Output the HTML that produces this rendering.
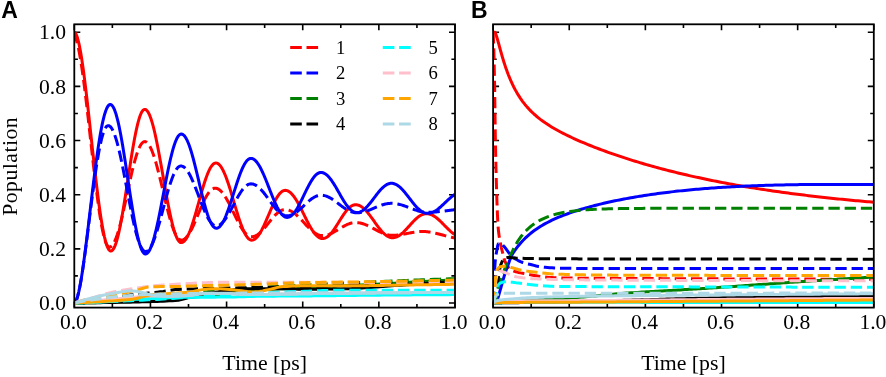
<!DOCTYPE html>
<html><head><meta charset="utf-8"><style>
html,body{margin:0;padding:0;background:#fff;}
body{width:886px;height:377px;overflow:hidden;}
svg{display:block;will-change:transform;}
.tk{font-family:"Liberation Serif",serif;font-size:21.6px;fill:#000;}
.lb{font-family:"Liberation Serif",serif;font-size:21.8px;fill:#000;}
.lg{font-family:"Liberation Serif",serif;font-size:18.6px;fill:#000;}
.pl{font-family:"Liberation Sans",sans-serif;font-size:23px;font-weight:bold;fill:#000;}
</style></head><body>
<svg width="886" height="377" viewBox="0 0 886 377">
<defs><clipPath id="clipA"><rect x="74.30" y="24.30" width="380.70" height="283.30"/></clipPath><clipPath id="clipB"><rect x="493.10" y="24.30" width="380.70" height="283.30"/></clipPath></defs>
<path d="M74.30,307.60v-6.00M74.30,24.30v6.00M112.37,307.60v-3.60M112.37,24.30v3.60M150.44,307.60v-6.00M150.44,24.30v6.00M188.51,307.60v-3.60M188.51,24.30v3.60M226.58,307.60v-6.00M226.58,24.30v6.00M264.65,307.60v-3.60M264.65,24.30v3.60M302.72,307.60v-6.00M302.72,24.30v6.00M340.79,307.60v-3.60M340.79,24.30v3.60M378.86,307.60v-6.00M378.86,24.30v6.00M416.93,307.60v-3.60M416.93,24.30v3.60M455.00,307.60v-6.00M455.00,24.30v6.00M74.30,303.00h6.00M455.00,303.00h-6.00M74.30,275.92h3.60M455.00,275.92h-3.60M74.30,248.84h6.00M455.00,248.84h-6.00M74.30,221.76h3.60M455.00,221.76h-3.60M74.30,194.68h6.00M455.00,194.68h-6.00M74.30,167.60h3.60M455.00,167.60h-3.60M74.30,140.52h6.00M455.00,140.52h-6.00M74.30,113.44h3.60M455.00,113.44h-3.60M74.30,86.36h6.00M455.00,86.36h-6.00M74.30,59.28h3.60M455.00,59.28h-3.60M74.30,32.20h6.00M455.00,32.20h-6.00" stroke="#000" stroke-width="1.6" fill="none"/>
<path d="M493.10,307.60v-6.00M493.10,24.30v6.00M531.17,307.60v-3.60M531.17,24.30v3.60M569.24,307.60v-6.00M569.24,24.30v6.00M607.31,307.60v-3.60M607.31,24.30v3.60M645.38,307.60v-6.00M645.38,24.30v6.00M683.45,307.60v-3.60M683.45,24.30v3.60M721.52,307.60v-6.00M721.52,24.30v6.00M759.59,307.60v-3.60M759.59,24.30v3.60M797.66,307.60v-6.00M797.66,24.30v6.00M835.73,307.60v-3.60M835.73,24.30v3.60M873.80,307.60v-6.00M873.80,24.30v6.00M493.10,303.00h6.00M873.80,303.00h-6.00M493.10,275.92h3.60M873.80,275.92h-3.60M493.10,248.84h6.00M873.80,248.84h-6.00M493.10,221.76h3.60M873.80,221.76h-3.60M493.10,194.68h6.00M873.80,194.68h-6.00M493.10,167.60h3.60M873.80,167.60h-3.60M493.10,140.52h6.00M873.80,140.52h-6.00M493.10,113.44h3.60M873.80,113.44h-3.60M493.10,86.36h6.00M873.80,86.36h-6.00M493.10,59.28h3.60M873.80,59.28h-3.60M493.10,32.20h6.00M873.80,32.20h-6.00" stroke="#000" stroke-width="1.6" fill="none"/>
<g fill="none" stroke-width="3.0" stroke-linejoin="round" stroke-linecap="butt">
<path clip-path="url(#clipA)" d="M74.30,32.20 L75.21,32.77 L76.13,34.25 L77.04,36.54 L77.95,39.57 L78.87,43.29 L79.78,47.66 L80.70,52.63 L81.61,58.16 L82.52,64.19 L83.44,70.68 L84.35,77.58 L85.26,84.84 L86.18,92.43 L87.09,100.27 L88.01,108.34 L88.92,116.56 L89.83,124.91 L90.75,133.32 L91.66,141.74 L92.57,150.14 L93.49,158.45 L94.40,166.64 L95.31,174.66 L96.23,182.47 L97.14,190.01 L98.06,197.26 L98.97,204.18 L99.88,210.73 L100.80,216.87 L101.71,222.58 L102.62,227.83 L103.54,232.59 L104.45,236.84 L105.37,240.55 L106.28,243.73 L107.19,246.34 L108.11,248.38 L109.02,249.84 L109.93,250.71 L110.85,251.01 L111.69,250.79 L112.54,250.13 L113.39,249.05 L114.24,247.54 L115.08,245.62 L115.93,243.29 L116.78,240.57 L117.62,237.48 L118.47,234.04 L119.32,230.27 L120.16,226.18 L121.01,221.82 L121.86,217.19 L122.71,212.34 L123.55,207.29 L124.40,202.07 L125.25,196.72 L126.09,191.27 L126.94,185.75 L127.79,180.19 L128.64,174.64 L129.48,169.11 L130.33,163.66 L131.18,158.31 L132.02,153.09 L132.87,148.04 L133.72,143.19 L134.56,138.57 L135.41,134.20 L136.26,130.12 L137.11,126.34 L137.95,122.90 L138.80,119.81 L139.65,117.10 L140.49,114.77 L141.34,112.84 L142.19,111.33 L143.04,110.25 L143.88,109.60 L144.73,109.38 L145.64,109.58 L146.56,110.20 L147.47,111.22 L148.38,112.64 L149.30,114.45 L150.21,116.64 L151.13,119.19 L152.04,122.10 L152.95,125.34 L153.87,128.89 L154.78,132.73 L155.69,136.84 L156.61,141.19 L157.52,145.75 L158.43,150.50 L159.35,155.41 L160.26,160.44 L161.18,165.57 L162.09,170.77 L163.00,175.99 L163.92,181.22 L164.83,186.42 L165.74,191.55 L166.66,196.58 L167.57,201.49 L168.49,206.24 L169.40,210.80 L170.31,215.15 L171.23,219.26 L172.14,223.10 L173.05,226.65 L173.97,229.89 L174.88,232.79 L175.79,235.35 L176.71,237.54 L177.62,239.35 L178.54,240.77 L179.45,241.79 L180.36,242.41 L181.28,242.61 L182.14,242.49 L183.01,242.12 L183.87,241.51 L184.74,240.66 L185.61,239.58 L186.47,238.27 L187.34,236.75 L188.21,235.01 L189.07,233.07 L189.94,230.95 L190.80,228.66 L191.67,226.20 L192.54,223.60 L193.40,220.88 L194.27,218.04 L195.13,215.11 L196.00,212.10 L196.87,209.03 L197.73,205.93 L198.60,202.80 L199.46,199.68 L200.33,196.58 L201.20,193.51 L202.06,190.50 L202.93,187.57 L203.80,184.73 L204.66,182.00 L205.53,179.41 L206.39,176.95 L207.26,174.66 L208.13,172.53 L208.99,170.60 L209.86,168.86 L210.72,167.34 L211.59,166.03 L212.46,164.94 L213.32,164.10 L214.19,163.49 L215.05,163.12 L215.92,163.00 L216.82,163.12 L217.71,163.47 L218.60,164.06 L219.50,164.89 L220.39,165.93 L221.29,167.20 L222.18,168.68 L223.08,170.37 L223.97,172.24 L224.87,174.30 L225.76,176.52 L226.66,178.90 L227.55,181.42 L228.45,184.07 L229.34,186.82 L230.23,189.66 L231.13,192.58 L232.02,195.55 L232.92,198.56 L233.81,201.59 L234.71,204.61 L235.60,207.62 L236.50,210.59 L237.39,213.51 L238.29,216.35 L239.18,219.10 L240.08,221.75 L240.97,224.27 L241.87,226.65 L242.76,228.87 L243.65,230.93 L244.55,232.80 L245.44,234.49 L246.34,235.97 L247.23,237.24 L248.13,238.29 L249.02,239.11 L249.92,239.70 L250.81,240.06 L251.71,240.17 L252.54,240.10 L253.38,239.87 L254.22,239.49 L255.06,238.96 L255.89,238.28 L256.73,237.46 L257.57,236.50 L258.41,235.42 L259.24,234.21 L260.08,232.88 L260.92,231.44 L261.76,229.90 L262.59,228.28 L263.43,226.57 L264.27,224.79 L265.11,222.96 L265.94,221.08 L266.78,219.16 L267.62,217.22 L268.46,215.26 L269.29,213.31 L270.13,211.36 L270.97,209.44 L271.81,207.56 L272.64,205.73 L273.48,203.95 L274.32,202.24 L275.16,200.62 L275.99,199.08 L276.83,197.64 L277.67,196.32 L278.51,195.11 L279.35,194.02 L280.18,193.06 L281.02,192.24 L281.86,191.57 L282.70,191.04 L283.53,190.65 L284.37,190.42 L285.21,190.35 L286.14,190.42 L287.07,190.64 L288.01,191.01 L288.94,191.53 L289.87,192.18 L290.80,192.97 L291.74,193.90 L292.67,194.95 L293.60,196.12 L294.53,197.41 L295.47,198.80 L296.40,200.28 L297.33,201.86 L298.27,203.51 L299.20,205.23 L300.13,207.00 L301.06,208.82 L302.00,210.68 L302.93,212.56 L303.86,214.45 L304.79,216.34 L305.73,218.22 L306.66,220.07 L307.59,221.90 L308.53,223.67 L309.46,225.39 L310.39,227.04 L311.32,228.61 L312.26,230.10 L313.19,231.49 L314.12,232.78 L315.05,233.95 L315.99,235.00 L316.92,235.92 L317.85,236.72 L318.79,237.37 L319.72,237.88 L320.65,238.25 L321.58,238.48 L322.52,238.55 L323.34,238.50 L324.17,238.34 L325.00,238.08 L325.83,237.72 L326.66,237.26 L327.48,236.70 L328.31,236.06 L329.14,235.32 L329.97,234.49 L330.80,233.59 L331.62,232.62 L332.45,231.57 L333.28,230.47 L334.11,229.31 L334.94,228.10 L335.76,226.85 L336.59,225.58 L337.42,224.27 L338.25,222.95 L339.08,221.62 L339.90,220.30 L340.73,218.98 L341.56,217.67 L342.39,216.39 L343.22,215.15 L344.04,213.94 L344.87,212.78 L345.70,211.68 L346.53,210.63 L347.36,209.66 L348.19,208.75 L349.01,207.93 L349.84,207.19 L350.67,206.54 L351.50,205.99 L352.33,205.53 L353.15,205.17 L353.98,204.91 L354.81,204.75 L355.64,204.70 L356.56,204.75 L357.48,204.90 L358.41,205.16 L359.33,205.51 L360.25,205.96 L361.18,206.50 L362.10,207.13 L363.02,207.85 L363.95,208.66 L364.87,209.54 L365.79,210.49 L366.72,211.51 L367.64,212.59 L368.56,213.72 L369.49,214.90 L370.41,216.11 L371.33,217.36 L372.25,218.63 L373.18,219.92 L374.10,221.22 L375.02,222.51 L375.95,223.80 L376.87,225.07 L377.79,226.32 L378.72,227.54 L379.64,228.72 L380.56,229.85 L381.49,230.93 L382.41,231.95 L383.33,232.90 L384.26,233.78 L385.18,234.58 L386.10,235.30 L387.03,235.94 L387.95,236.48 L388.87,236.93 L389.80,237.28 L390.72,237.53 L391.64,237.69 L392.57,237.74 L393.41,237.70 L394.26,237.59 L395.11,237.40 L395.95,237.15 L396.80,236.82 L397.65,236.42 L398.49,235.96 L399.34,235.44 L400.19,234.85 L401.04,234.21 L401.88,233.51 L402.73,232.77 L403.58,231.98 L404.42,231.16 L405.27,230.30 L406.12,229.41 L406.97,228.50 L407.81,227.57 L408.66,226.63 L409.51,225.69 L410.35,224.74 L411.20,223.80 L412.05,222.87 L412.89,221.96 L413.74,221.08 L414.59,220.22 L415.44,219.39 L416.28,218.60 L417.13,217.86 L417.98,217.17 L418.82,216.52 L419.67,215.94 L420.52,215.41 L421.37,214.95 L422.21,214.55 L423.06,214.23 L423.91,213.97 L424.75,213.78 L425.60,213.67 L426.45,213.64 L427.35,213.67 L428.26,213.78 L429.16,213.96 L430.06,214.21 L430.97,214.53 L431.87,214.92 L432.78,215.37 L433.68,215.89 L434.58,216.46 L435.49,217.09 L436.39,217.77 L437.30,218.49 L438.20,219.26 L439.11,220.07 L440.01,220.91 L440.91,221.78 L441.82,222.67 L442.72,223.57 L443.63,224.49 L444.53,225.42 L445.43,226.34 L446.34,227.26 L447.24,228.17 L448.15,229.06 L449.05,229.92 L449.96,230.76 L450.86,231.57 L451.76,232.34 L452.67,233.07 L453.57,233.75 L454.48,234.37 L455.00,234.70" stroke="#ff0000"/>
<path clip-path="url(#clipA)" d="M74.30,32.20 L74.64,35.17 L75.58,37.46 L76.51,40.38 L77.45,43.92 L78.39,48.04 L79.33,52.73 L80.26,57.96 L81.20,63.69 L82.14,69.89 L83.08,76.52 L84.01,83.54 L84.95,90.90 L85.89,98.57 L86.83,106.49 L87.76,114.61 L88.70,122.89 L89.64,131.27 L90.57,139.71 L91.51,148.14 L92.45,156.53 L93.39,164.80 L94.32,172.93 L95.26,180.85 L96.20,188.52 L97.14,195.88 L98.07,202.90 L99.01,209.53 L99.95,215.73 L100.89,221.46 L101.82,226.68 L102.76,231.37 L103.70,235.50 L104.64,239.03 L105.57,241.95 L106.51,244.24 L107.45,245.89 L108.39,246.88 L109.32,247.22 L110.21,247.05 L111.09,246.57 L111.98,245.76 L112.86,244.63 L113.75,243.20 L114.64,241.46 L115.52,239.43 L116.41,237.13 L117.29,234.56 L118.18,231.75 L119.06,228.70 L119.95,225.45 L120.83,222.00 L121.72,218.38 L122.60,214.62 L123.49,210.73 L124.37,206.74 L125.26,202.67 L126.14,198.55 L127.03,194.41 L127.91,190.27 L128.80,186.15 L129.68,182.08 L130.57,178.09 L131.45,174.20 L132.34,170.44 L133.22,166.82 L134.11,163.37 L134.99,160.11 L135.88,157.07 L136.76,154.26 L137.65,151.69 L138.53,149.38 L139.42,147.36 L140.30,145.62 L141.19,144.19 L142.07,143.06 L142.96,142.25 L143.84,141.77 L144.73,141.60 L145.64,141.76 L146.56,142.21 L147.47,142.96 L148.38,144.02 L149.30,145.35 L150.21,146.98 L151.13,148.87 L152.04,151.02 L152.95,153.41 L153.87,156.04 L154.78,158.88 L155.69,161.92 L156.61,165.14 L157.52,168.51 L158.43,172.03 L159.35,175.66 L160.26,179.38 L161.18,183.18 L162.09,187.02 L163.00,190.89 L163.92,194.76 L164.83,198.60 L165.74,202.39 L166.66,206.12 L167.57,209.75 L168.49,213.26 L169.40,216.64 L170.31,219.86 L171.23,222.90 L172.14,225.74 L173.05,228.37 L173.97,230.76 L174.88,232.91 L175.79,234.80 L176.71,236.42 L177.62,237.76 L178.54,238.81 L179.45,239.57 L180.36,240.02 L181.28,240.17 L182.12,240.09 L182.97,239.85 L183.82,239.46 L184.66,238.90 L185.51,238.20 L186.36,237.34 L187.21,236.34 L188.05,235.21 L188.90,233.95 L189.75,232.56 L190.59,231.06 L191.44,229.46 L192.29,227.76 L193.14,225.98 L193.98,224.13 L194.83,222.21 L195.68,220.25 L196.52,218.24 L197.37,216.22 L198.22,214.18 L199.06,212.14 L199.91,210.11 L200.76,208.11 L201.61,206.14 L202.45,204.23 L203.30,202.38 L204.15,200.59 L204.99,198.90 L205.84,197.29 L206.69,195.80 L207.54,194.41 L208.38,193.15 L209.23,192.01 L210.08,191.01 L210.92,190.16 L211.77,189.45 L212.62,188.90 L213.46,188.50 L214.31,188.26 L215.16,188.18 L216.07,188.26 L216.99,188.48 L217.90,188.85 L218.81,189.37 L219.73,190.03 L220.64,190.82 L221.55,191.75 L222.47,192.81 L223.38,193.99 L224.30,195.28 L225.21,196.68 L226.12,198.17 L227.04,199.75 L227.95,201.41 L228.86,203.14 L229.78,204.93 L230.69,206.76 L231.61,208.63 L232.52,210.52 L233.43,212.42 L234.35,214.32 L235.26,216.21 L236.17,218.08 L237.09,219.91 L238.00,221.69 L238.91,223.42 L239.83,225.08 L240.74,226.66 L241.66,228.16 L242.57,229.56 L243.48,230.85 L244.40,232.03 L245.31,233.08 L246.22,234.01 L247.14,234.81 L248.05,235.47 L248.97,235.98 L249.88,236.36 L250.79,236.58 L251.71,236.65 L252.54,236.61 L253.38,236.49 L254.22,236.28 L255.06,235.99 L255.89,235.62 L256.73,235.18 L257.57,234.66 L258.41,234.07 L259.24,233.41 L260.08,232.69 L260.92,231.91 L261.76,231.07 L262.59,230.19 L263.43,229.26 L264.27,228.30 L265.11,227.30 L265.94,226.27 L266.78,225.23 L267.62,224.18 L268.46,223.11 L269.29,222.05 L270.13,221.00 L270.97,219.95 L271.81,218.93 L272.64,217.93 L273.48,216.97 L274.32,216.04 L275.16,215.16 L275.99,214.32 L276.83,213.54 L277.67,212.82 L278.51,212.16 L279.35,211.57 L280.18,211.05 L281.02,210.60 L281.86,210.24 L282.70,209.95 L283.53,209.74 L284.37,209.62 L285.21,209.57 L286.14,209.61 L287.07,209.73 L288.01,209.93 L288.94,210.21 L289.87,210.56 L290.80,210.99 L291.74,211.49 L292.67,212.06 L293.60,212.69 L294.53,213.38 L295.47,214.13 L296.40,214.93 L297.33,215.78 L298.27,216.67 L299.20,217.60 L300.13,218.56 L301.06,219.54 L302.00,220.54 L302.93,221.55 L303.86,222.57 L304.79,223.59 L305.73,224.61 L306.66,225.61 L307.59,226.59 L308.53,227.55 L309.46,228.47 L310.39,229.36 L311.32,230.21 L312.26,231.01 L313.19,231.76 L314.12,232.46 L315.05,233.09 L315.99,233.66 L316.92,234.15 L317.85,234.58 L318.79,234.93 L319.72,235.21 L320.65,235.41 L321.58,235.53 L322.52,235.57 L323.34,235.55 L324.17,235.49 L325.00,235.39 L325.83,235.25 L326.66,235.08 L327.48,234.86 L328.31,234.61 L329.14,234.33 L329.97,234.01 L330.80,233.67 L331.62,233.29 L332.45,232.89 L333.28,232.47 L334.11,232.02 L334.94,231.56 L335.76,231.08 L336.59,230.59 L337.42,230.09 L338.25,229.58 L339.08,229.07 L339.90,228.56 L340.73,228.05 L341.56,227.55 L342.39,227.06 L343.22,226.58 L344.04,226.12 L344.87,225.68 L345.70,225.25 L346.53,224.85 L347.36,224.48 L348.19,224.13 L349.01,223.81 L349.84,223.53 L350.67,223.28 L351.50,223.07 L352.33,222.89 L353.15,222.75 L353.98,222.65 L354.81,222.59 L355.64,222.57 L356.56,222.59 L357.48,222.65 L358.41,222.75 L359.33,222.88 L360.25,223.06 L361.18,223.27 L362.10,223.51 L363.02,223.79 L363.95,224.10 L364.87,224.44 L365.79,224.80 L366.72,225.20 L367.64,225.61 L368.56,226.05 L369.49,226.50 L370.41,226.97 L371.33,227.45 L372.25,227.94 L373.18,228.44 L374.10,228.94 L375.02,229.44 L375.95,229.93 L376.87,230.42 L377.79,230.90 L378.72,231.37 L379.64,231.83 L380.56,232.26 L381.49,232.68 L382.41,233.07 L383.33,233.44 L384.26,233.78 L385.18,234.08 L386.10,234.36 L387.03,234.61 L387.95,234.82 L388.87,234.99 L389.80,235.12 L390.72,235.22 L391.64,235.28 L392.57,235.30 L393.32,235.29 L394.07,235.28 L394.82,235.25 L395.57,235.21 L396.32,235.16 L397.08,235.09 L397.83,235.02 L398.58,234.94 L399.33,234.85 L400.08,234.74 L400.84,234.64 L401.59,234.52 L402.34,234.39 L403.09,234.26 L403.84,234.13 L404.60,233.99 L405.35,233.85 L406.10,233.70 L406.85,233.55 L407.60,233.40 L408.35,233.26 L409.11,233.11 L409.86,232.96 L410.61,232.82 L411.36,232.68 L412.11,232.54 L412.87,232.41 L413.62,232.29 L414.37,232.17 L415.12,232.06 L415.87,231.96 L416.63,231.87 L417.38,231.79 L418.13,231.72 L418.88,231.65 L419.63,231.60 L420.38,231.56 L421.14,231.53 L421.89,231.51 L422.64,231.51 L423.64,231.52 L424.64,231.55 L425.64,231.61 L426.64,231.68 L427.64,231.78 L428.64,231.89 L429.64,232.03 L430.64,232.18 L431.63,232.35 L432.63,232.54 L433.63,232.74 L434.63,232.96 L435.63,233.19 L436.63,233.43 L437.63,233.68 L438.63,233.94 L439.63,234.21 L440.63,234.48 L441.63,234.75 L442.63,235.03 L443.63,235.31 L444.63,235.58 L445.63,235.85 L446.62,236.12 L447.62,236.38 L448.62,236.63 L449.62,236.87 L450.62,237.10 L451.62,237.32 L452.62,237.52 L453.62,237.71 L454.62,237.88 L455.00,237.94" stroke="#ff0000" stroke-dasharray="11.3 4.9"/>
<path clip-path="url(#clipA)" d="M74.30,303.00 L75.20,302.36 L76.10,300.78 L77.00,298.41 L77.90,295.34 L78.80,291.62 L79.70,287.33 L80.60,282.49 L81.50,277.17 L82.39,271.42 L83.29,265.28 L84.19,258.79 L85.09,252.01 L85.99,244.97 L86.89,237.74 L87.79,230.35 L88.69,222.84 L89.59,215.27 L90.49,207.68 L91.39,200.10 L92.29,192.59 L93.19,185.17 L94.09,177.90 L94.99,170.80 L95.89,163.92 L96.79,157.29 L97.68,150.94 L98.58,144.90 L99.48,139.20 L100.38,133.86 L101.28,128.92 L102.18,124.38 L103.08,120.28 L103.98,116.63 L104.88,113.43 L105.78,110.72 L106.68,108.49 L107.58,106.74 L108.48,105.50 L109.38,104.75 L110.28,104.50 L111.16,104.73 L112.04,105.42 L112.92,106.57 L113.80,108.16 L114.68,110.19 L115.56,112.65 L116.44,115.52 L117.32,118.78 L118.20,122.41 L119.08,126.39 L119.96,130.70 L120.84,135.31 L121.72,140.19 L122.60,145.31 L123.48,150.64 L124.36,156.15 L125.24,161.80 L126.12,167.55 L127.00,173.38 L127.88,179.24 L128.76,185.11 L129.64,190.94 L130.52,196.69 L131.41,202.34 L132.29,207.85 L133.17,213.18 L134.05,218.30 L134.93,223.18 L135.81,227.78 L136.69,232.09 L137.57,236.08 L138.45,239.71 L139.33,242.97 L140.21,245.84 L141.09,248.30 L141.97,250.33 L142.85,251.92 L143.73,253.07 L144.61,253.75 L145.49,253.99 L146.39,253.80 L147.28,253.25 L148.17,252.33 L149.07,251.05 L149.96,249.42 L150.86,247.45 L151.75,245.15 L152.65,242.53 L153.54,239.61 L154.44,236.42 L155.33,232.96 L156.23,229.26 L157.12,225.34 L158.02,221.23 L158.91,216.96 L159.81,212.54 L160.70,208.01 L161.59,203.39 L162.49,198.71 L163.38,194.00 L164.28,189.30 L165.17,184.62 L166.07,180.00 L166.96,175.47 L167.86,171.05 L168.75,166.77 L169.65,162.66 L170.54,158.75 L171.44,155.05 L172.33,151.59 L173.22,148.39 L174.12,145.48 L175.01,142.86 L175.91,140.56 L176.80,138.59 L177.70,136.96 L178.59,135.68 L179.49,134.76 L180.38,134.21 L181.28,134.02 L182.15,134.17 L183.03,134.60 L183.90,135.32 L184.78,136.33 L185.65,137.61 L186.53,139.16 L187.41,140.96 L188.28,143.02 L189.16,145.31 L190.03,147.82 L190.91,150.54 L191.78,153.44 L192.66,156.52 L193.54,159.75 L194.41,163.11 L195.29,166.58 L196.16,170.14 L197.04,173.77 L197.91,177.44 L198.79,181.14 L199.66,184.84 L200.54,188.51 L201.42,192.14 L202.29,195.70 L203.17,199.17 L204.04,202.53 L204.92,205.76 L205.79,208.84 L206.67,211.74 L207.54,214.46 L208.42,216.97 L209.30,219.26 L210.17,221.32 L211.05,223.12 L211.92,224.67 L212.80,225.95 L213.67,226.96 L214.55,227.68 L215.43,228.11 L216.30,228.26 L217.17,228.15 L218.03,227.83 L218.90,227.29 L219.77,226.55 L220.63,225.60 L221.50,224.45 L222.36,223.11 L223.23,221.59 L224.10,219.89 L224.96,218.03 L225.83,216.01 L226.69,213.86 L227.56,211.58 L228.43,209.19 L229.29,206.69 L230.16,204.12 L231.02,201.48 L231.89,198.79 L232.76,196.07 L233.62,193.33 L234.49,190.59 L235.36,187.86 L236.22,185.17 L237.09,182.53 L237.95,179.96 L238.82,177.47 L239.69,175.07 L240.55,172.79 L241.42,170.64 L242.28,168.62 L243.15,166.76 L244.02,165.06 L244.88,163.54 L245.75,162.20 L246.61,161.05 L247.48,160.10 L248.35,159.36 L249.21,158.82 L250.08,158.50 L250.94,158.39 L251.85,158.48 L252.75,158.76 L253.66,159.21 L254.56,159.84 L255.47,160.64 L256.37,161.61 L257.27,162.74 L258.18,164.03 L259.08,165.46 L259.99,167.04 L260.89,168.74 L261.79,170.56 L262.70,172.49 L263.60,174.51 L264.51,176.61 L265.41,178.79 L266.32,181.02 L267.22,183.29 L268.12,185.59 L269.03,187.91 L269.93,190.23 L270.84,192.53 L271.74,194.80 L272.64,197.03 L273.55,199.21 L274.45,201.31 L275.36,203.33 L276.26,205.26 L277.17,207.08 L278.07,208.78 L278.97,210.36 L279.88,211.79 L280.78,213.08 L281.69,214.21 L282.59,215.18 L283.49,215.98 L284.40,216.61 L285.30,217.06 L286.21,217.34 L287.11,217.43 L287.96,217.36 L288.81,217.15 L289.65,216.81 L290.50,216.33 L291.35,215.72 L292.19,214.98 L293.04,214.12 L293.89,213.13 L294.73,212.04 L295.58,210.84 L296.43,209.55 L297.28,208.16 L298.12,206.69 L298.97,205.15 L299.82,203.55 L300.66,201.90 L301.51,200.20 L302.36,198.47 L303.21,196.71 L304.05,194.95 L304.90,193.19 L305.75,191.43 L306.59,189.70 L307.44,188.01 L308.29,186.35 L309.13,184.75 L309.98,183.21 L310.83,181.74 L311.68,180.35 L312.52,179.06 L313.37,177.86 L314.22,176.77 L315.06,175.79 L315.91,174.92 L316.76,174.19 L317.61,173.57 L318.45,173.10 L319.30,172.75 L320.15,172.54 L320.99,172.47 L321.89,172.54 L322.78,172.72 L323.68,173.03 L324.57,173.46 L325.47,174.00 L326.36,174.66 L327.26,175.43 L328.15,176.30 L329.05,177.28 L329.94,178.34 L330.83,179.50 L331.73,180.73 L332.62,182.04 L333.52,183.42 L334.41,184.84 L335.31,186.32 L336.20,187.84 L337.10,189.38 L337.99,190.94 L338.89,192.51 L339.78,194.09 L340.68,195.65 L341.57,197.19 L342.47,198.71 L343.36,200.18 L344.25,201.61 L345.15,202.98 L346.04,204.29 L346.94,205.53 L347.83,206.68 L348.73,207.75 L349.62,208.73 L350.52,209.60 L351.41,210.37 L352.31,211.03 L353.20,211.57 L354.10,212.00 L354.99,212.31 L355.88,212.49 L356.78,212.55 L357.65,212.51 L358.51,212.37 L359.38,212.15 L360.24,211.84 L361.11,211.44 L361.98,210.96 L362.84,210.40 L363.71,209.76 L364.57,209.05 L365.44,208.27 L366.31,207.43 L367.17,206.52 L368.04,205.57 L368.90,204.57 L369.77,203.53 L370.64,202.45 L371.50,201.34 L372.37,200.22 L373.24,199.08 L374.10,197.93 L374.97,196.78 L375.83,195.64 L376.70,194.52 L377.57,193.41 L378.43,192.33 L379.30,191.29 L380.16,190.29 L381.03,189.33 L381.90,188.43 L382.76,187.59 L383.63,186.81 L384.49,186.10 L385.36,185.46 L386.23,184.90 L387.09,184.42 L387.96,184.02 L388.82,183.71 L389.69,183.49 L390.56,183.35 L391.42,183.31 L392.33,183.35 L393.23,183.49 L394.14,183.72 L395.04,184.04 L395.94,184.45 L396.85,184.94 L397.75,185.52 L398.66,186.18 L399.56,186.91 L400.46,187.71 L401.37,188.57 L402.27,189.50 L403.18,190.48 L404.08,191.51 L404.99,192.58 L405.89,193.69 L406.79,194.83 L407.70,195.98 L408.60,197.16 L409.51,198.34 L410.41,199.51 L411.31,200.69 L412.22,201.84 L413.12,202.98 L414.03,204.09 L414.93,205.16 L415.84,206.19 L416.74,207.17 L417.64,208.10 L418.55,208.96 L419.45,209.76 L420.36,210.49 L421.26,211.15 L422.16,211.73 L423.07,212.22 L423.97,212.63 L424.88,212.95 L425.78,213.18 L426.69,213.32 L427.59,213.37 L428.47,213.33 L429.34,213.23 L430.22,213.07 L431.09,212.84 L431.97,212.55 L432.84,212.20 L433.72,211.79 L434.59,211.32 L435.47,210.80 L436.35,210.23 L437.22,209.62 L438.10,208.96 L438.97,208.26 L439.85,207.52 L440.72,206.76 L441.60,205.97 L442.47,205.17 L443.35,204.34 L444.23,203.51 L445.10,202.67 L445.98,201.83 L446.85,201.00 L447.73,200.17 L448.60,199.36 L449.48,198.58 L450.36,197.81 L451.23,197.08 L452.11,196.38 L452.98,195.72 L453.86,195.10 L454.73,194.53 L455.00,194.38" stroke="#0000ff"/>
<path clip-path="url(#clipA)" d="M74.30,303.00 L75.15,302.43 L75.99,301.02 L76.84,298.90 L77.69,296.15 L78.54,292.84 L79.38,288.99 L80.23,284.68 L81.08,279.92 L81.92,274.78 L82.77,269.29 L83.62,263.49 L84.46,257.43 L85.31,251.15 L86.16,244.68 L87.01,238.08 L87.85,231.37 L88.70,224.61 L89.55,217.82 L90.39,211.05 L91.24,204.34 L92.09,197.71 L92.94,191.21 L93.78,184.87 L94.63,178.72 L95.48,172.79 L96.32,167.12 L97.17,161.72 L98.02,156.63 L98.86,151.86 L99.71,147.44 L100.56,143.39 L101.41,139.72 L102.25,136.46 L103.10,133.61 L103.95,131.18 L104.79,129.18 L105.64,127.63 L106.49,126.52 L107.34,125.85 L108.18,125.63 L109.12,125.82 L110.05,126.40 L110.98,127.37 L111.91,128.71 L112.85,130.42 L113.78,132.49 L114.71,134.90 L115.64,137.65 L116.58,140.71 L117.51,144.07 L118.44,147.70 L119.37,151.58 L120.31,155.69 L121.24,160.00 L122.17,164.49 L123.11,169.13 L124.04,173.89 L124.97,178.74 L125.90,183.65 L126.84,188.59 L127.77,193.53 L128.70,198.44 L129.63,203.28 L130.57,208.04 L131.50,212.68 L132.43,217.17 L133.37,221.48 L134.30,225.59 L135.23,229.48 L136.16,233.11 L137.10,236.46 L138.03,239.52 L138.96,242.27 L139.89,244.69 L140.83,246.76 L141.76,248.47 L142.69,249.81 L143.63,250.77 L144.56,251.35 L145.49,251.55 L146.38,251.42 L147.26,251.02 L148.15,250.37 L149.03,249.45 L149.92,248.29 L150.80,246.88 L151.69,245.24 L152.57,243.38 L153.46,241.30 L154.34,239.02 L155.23,236.55 L156.11,233.91 L157.00,231.12 L157.88,228.19 L158.77,225.14 L159.65,221.98 L160.54,218.75 L161.42,215.45 L162.31,212.12 L163.19,208.76 L164.08,205.40 L164.96,202.07 L165.85,198.77 L166.73,195.54 L167.62,192.39 L168.50,189.34 L169.39,186.41 L170.27,183.61 L171.16,180.97 L172.04,178.51 L172.93,176.23 L173.81,174.15 L174.70,172.28 L175.59,170.64 L176.47,169.23 L177.36,168.07 L178.24,167.16 L179.13,166.50 L180.01,166.11 L180.90,165.98 L181.78,166.07 L182.67,166.34 L183.55,166.80 L184.44,167.44 L185.32,168.25 L186.21,169.24 L187.09,170.38 L187.98,171.69 L188.86,173.14 L189.75,174.74 L190.63,176.46 L191.52,178.31 L192.40,180.26 L193.29,182.31 L194.17,184.45 L195.06,186.65 L195.94,188.91 L196.83,191.22 L197.71,193.55 L198.60,195.90 L199.48,198.25 L200.37,200.58 L201.25,202.88 L202.14,205.15 L203.02,207.35 L203.91,209.48 L204.79,211.53 L205.68,213.49 L206.56,215.33 L207.45,217.06 L208.33,218.65 L209.22,220.11 L210.11,221.41 L210.99,222.56 L211.88,223.54 L212.76,224.36 L213.65,225.00 L214.53,225.45 L215.42,225.73 L216.30,225.82 L217.17,225.76 L218.03,225.56 L218.90,225.24 L219.77,224.79 L220.63,224.22 L221.50,223.53 L222.36,222.73 L223.23,221.81 L224.10,220.79 L224.96,219.68 L225.83,218.46 L226.69,217.17 L227.56,215.80 L228.43,214.36 L229.29,212.87 L230.16,211.32 L231.02,209.73 L231.89,208.12 L232.76,206.48 L233.62,204.83 L234.49,203.19 L235.36,201.55 L236.22,199.94 L237.09,198.35 L237.95,196.80 L238.82,195.31 L239.69,193.87 L240.55,192.50 L241.42,191.21 L242.28,189.99 L243.15,188.88 L244.02,187.86 L244.88,186.94 L245.75,186.14 L246.61,185.45 L247.48,184.88 L248.35,184.43 L249.21,184.11 L250.08,183.91 L250.94,183.85 L251.85,183.90 L252.75,184.04 L253.66,184.29 L254.56,184.63 L255.47,185.06 L256.37,185.59 L257.27,186.20 L258.18,186.90 L259.08,187.68 L259.99,188.53 L260.89,189.45 L261.79,190.43 L262.70,191.48 L263.60,192.57 L264.51,193.71 L265.41,194.89 L266.32,196.10 L267.22,197.33 L268.12,198.57 L269.03,199.83 L269.93,201.08 L270.84,202.32 L271.74,203.56 L272.64,204.76 L273.55,205.94 L274.45,207.08 L275.36,208.17 L276.26,209.22 L277.17,210.20 L278.07,211.12 L278.97,211.97 L279.88,212.75 L280.78,213.45 L281.69,214.06 L282.59,214.59 L283.49,215.02 L284.40,215.36 L285.30,215.61 L286.21,215.75 L287.11,215.80 L287.96,215.77 L288.81,215.68 L289.65,215.52 L290.50,215.30 L291.35,215.02 L292.19,214.68 L293.04,214.29 L293.89,213.84 L294.73,213.34 L295.58,212.79 L296.43,212.20 L297.28,211.56 L298.12,210.89 L298.97,210.18 L299.82,209.45 L300.66,208.69 L301.51,207.91 L302.36,207.12 L303.21,206.32 L304.05,205.51 L304.90,204.70 L305.75,203.90 L306.59,203.11 L307.44,202.33 L308.29,201.57 L309.13,200.84 L309.98,200.14 L310.83,199.46 L311.68,198.83 L312.52,198.24 L313.37,197.69 L314.22,197.19 L315.06,196.74 L315.91,196.34 L316.76,196.00 L317.61,195.73 L318.45,195.51 L319.30,195.35 L320.15,195.25 L320.99,195.22 L321.89,195.25 L322.78,195.33 L323.68,195.46 L324.57,195.65 L325.47,195.89 L326.36,196.18 L327.26,196.52 L328.15,196.90 L329.05,197.33 L329.94,197.80 L330.83,198.31 L331.73,198.85 L332.62,199.42 L333.52,200.03 L334.41,200.65 L335.31,201.30 L336.20,201.97 L337.10,202.65 L337.99,203.33 L338.89,204.02 L339.78,204.71 L340.68,205.40 L341.57,206.08 L342.47,206.74 L343.36,207.39 L344.25,208.02 L345.15,208.62 L346.04,209.20 L346.94,209.74 L347.83,210.25 L348.73,210.71 L349.62,211.14 L350.52,211.53 L351.41,211.86 L352.31,212.15 L353.20,212.39 L354.10,212.58 L354.99,212.72 L355.88,212.80 L356.78,212.82 L357.65,212.81 L358.51,212.77 L359.38,212.69 L360.24,212.59 L361.11,212.46 L361.98,212.31 L362.84,212.13 L363.71,211.92 L364.57,211.69 L365.44,211.44 L366.31,211.16 L367.17,210.87 L368.04,210.56 L368.90,210.24 L369.77,209.90 L370.64,209.55 L371.50,209.19 L372.37,208.83 L373.24,208.46 L374.10,208.08 L374.97,207.71 L375.83,207.34 L376.70,206.98 L377.57,206.62 L378.43,206.27 L379.30,205.93 L380.16,205.61 L381.03,205.30 L381.90,205.01 L382.76,204.73 L383.63,204.48 L384.49,204.25 L385.36,204.04 L386.23,203.86 L387.09,203.71 L387.96,203.58 L388.82,203.48 L389.69,203.40 L390.56,203.36 L391.42,203.35 L392.33,203.36 L393.23,203.40 L394.14,203.47 L395.04,203.56 L395.94,203.69 L396.85,203.83 L397.75,204.00 L398.66,204.20 L399.56,204.42 L400.46,204.65 L401.37,204.91 L402.27,205.19 L403.18,205.48 L404.08,205.79 L404.99,206.10 L405.89,206.43 L406.79,206.77 L407.70,207.11 L408.60,207.46 L409.51,207.81 L410.41,208.16 L411.31,208.51 L412.22,208.86 L413.12,209.19 L414.03,209.52 L414.93,209.84 L415.84,210.15 L416.74,210.44 L417.64,210.72 L418.55,210.97 L419.45,211.21 L420.36,211.43 L421.26,211.62 L422.16,211.79 L423.07,211.94 L423.97,212.06 L424.88,212.16 L425.78,212.23 L426.69,212.27 L427.59,212.28 L428.56,212.28 L429.53,212.26 L430.50,212.24 L431.47,212.20 L432.44,212.16 L433.41,212.10 L434.39,212.04 L435.36,211.97 L436.33,211.89 L437.30,211.81 L438.27,211.71 L439.24,211.61 L440.21,211.51 L441.18,211.39 L442.15,211.28 L443.12,211.16 L444.09,211.04 L445.06,210.91 L446.03,210.78 L447.01,210.66 L447.98,210.53 L448.95,210.40 L449.92,210.28 L450.89,210.16 L451.86,210.04 L452.83,209.92 L453.80,209.81 L454.77,209.70 L455.00,209.68" stroke="#0000ff" stroke-dasharray="11.3 4.9"/>
<path clip-path="url(#clipA)" d="M74.30,303.00 L74.56,303.00 L74.81,303.00 L75.07,302.99 L75.33,302.99 L75.58,302.99 L75.84,302.99 L76.10,302.99 L76.35,302.98 L76.61,302.98 L76.87,302.98 L77.12,302.98 L77.38,302.97 L77.64,302.97 L77.89,302.97 L78.15,302.97 L78.41,302.96 L78.66,302.96 L78.92,302.96 L79.18,302.95 L79.43,302.95 L79.69,302.95 L79.95,302.94 L80.20,302.94 L80.46,302.94 L80.72,302.93 L80.97,302.93 L81.23,302.93 L81.49,302.92 L81.74,302.92 L82.00,302.92 L82.26,302.91 L82.51,302.91 L82.77,302.90 L83.03,302.90 L83.28,302.90 L83.54,302.89 L83.80,302.89 L84.05,302.88 L84.31,302.88 L84.57,302.88 L84.82,302.87 L85.08,302.87 L85.34,302.86 L85.59,302.86 L85.85,302.85 L86.11,302.85 L86.36,302.84 L86.62,302.84 L86.88,302.84 L87.13,302.83 L87.39,302.83 L87.65,302.82 L87.90,302.82 L88.16,302.81 L88.42,302.81 L88.67,302.80 L88.93,302.80 L89.19,302.79 L89.44,302.79 L89.70,302.78 L89.96,302.78 L90.21,302.77 L90.47,302.76 L90.73,302.76 L90.98,302.75 L91.24,302.75 L91.50,302.74 L91.75,302.74 L92.01,302.73 L92.27,302.73 L92.52,302.72 L92.78,302.71 L93.04,302.71 L93.29,302.70 L93.55,302.70 L93.81,302.69 L94.06,302.69 L94.32,302.68 L94.58,302.67 L94.83,302.67 L95.09,302.66 L95.35,302.66 L95.60,302.65 L95.86,302.64 L96.12,302.64 L96.37,302.63 L96.63,302.62 L96.89,302.62 L97.14,302.61 L100.15,302.53 L103.16,302.45 L106.16,302.37 L109.17,302.28 L112.18,302.19 L115.19,302.10 L118.19,301.99 L121.20,301.87 L124.21,301.73 L127.21,301.59 L130.22,301.44 L133.23,301.28 L136.24,301.11 L139.24,300.94 L142.25,300.77 L145.26,300.60 L148.26,300.42 L151.27,300.24 L154.28,300.06 L157.29,299.88 L160.29,299.69 L163.30,299.49 L166.31,299.29 L169.32,299.08 L172.32,298.86 L175.33,298.64 L178.34,298.41 L181.34,298.17 L184.35,297.93 L187.36,297.68 L190.37,297.42 L193.37,297.15 L196.38,296.86 L199.39,296.56 L202.39,296.25 L205.40,295.94 L208.41,295.61 L211.42,295.27 L214.42,294.93 L217.43,294.59 L220.44,294.24 L223.44,293.89 L226.45,293.54 L229.46,293.16 L232.47,292.75 L235.47,292.32 L238.48,291.88 L241.49,291.46 L244.50,291.06 L247.50,290.70 L250.51,290.40 L253.52,290.17 L256.52,289.97 L259.53,289.79 L262.54,289.63 L265.55,289.48 L268.55,289.34 L271.56,289.20 L274.57,289.07 L277.57,288.94 L280.58,288.80 L283.59,288.65 L286.60,288.50 L289.60,288.35 L292.61,288.20 L295.62,288.05 L298.63,287.90 L301.63,287.74 L304.64,287.59 L307.65,287.45 L310.65,287.30 L313.66,287.15 L316.67,287.00 L319.68,286.85 L322.68,286.71 L325.69,286.56 L328.70,286.42 L331.70,286.28 L334.71,286.14 L337.72,286.00 L340.73,285.86 L343.73,285.72 L346.74,285.59 L349.75,285.45 L352.75,285.31 L355.76,285.17 L358.77,285.03 L361.78,284.89 L364.78,284.75 L367.79,284.60 L370.80,284.45 L373.81,284.30 L376.81,284.15 L379.82,283.99 L382.83,283.83 L385.83,283.67 L388.84,283.50 L391.85,283.33 L394.86,283.16 L397.86,282.99 L400.87,282.81 L403.88,282.63 L406.88,282.46 L409.89,282.28 L412.90,282.11 L415.91,281.94 L418.91,281.76 L421.92,281.59 L424.93,281.42 L427.94,281.25 L430.94,281.08 L433.95,280.91 L436.96,280.74 L439.96,280.57 L442.97,280.40 L445.98,280.22 L448.99,280.05 L451.99,279.88 L455.00,279.71" stroke="#008000"/>
<path clip-path="url(#clipA)" d="M74.30,303.00 L74.56,303.00 L74.81,302.99 L75.07,302.99 L75.33,302.98 L75.58,302.98 L75.84,302.98 L76.10,302.97 L76.35,302.97 L76.61,302.96 L76.87,302.96 L77.12,302.95 L77.38,302.95 L77.64,302.94 L77.89,302.94 L78.15,302.93 L78.41,302.92 L78.66,302.92 L78.92,302.91 L79.18,302.91 L79.43,302.90 L79.69,302.89 L79.95,302.89 L80.20,302.88 L80.46,302.87 L80.72,302.87 L80.97,302.86 L81.23,302.85 L81.49,302.85 L81.74,302.84 L82.00,302.83 L82.26,302.82 L82.51,302.82 L82.77,302.81 L83.03,302.80 L83.28,302.79 L83.54,302.79 L83.80,302.78 L84.05,302.77 L84.31,302.76 L84.57,302.75 L84.82,302.74 L85.08,302.73 L85.34,302.73 L85.59,302.72 L85.85,302.71 L86.11,302.70 L86.36,302.69 L86.62,302.68 L86.88,302.67 L87.13,302.66 L87.39,302.65 L87.65,302.64 L87.90,302.63 L88.16,302.62 L88.42,302.61 L88.67,302.60 L88.93,302.59 L89.19,302.58 L89.44,302.57 L89.70,302.56 L89.96,302.55 L90.21,302.54 L90.47,302.53 L90.73,302.52 L90.98,302.51 L91.24,302.50 L91.50,302.49 L91.75,302.47 L92.01,302.46 L92.27,302.45 L92.52,302.44 L92.78,302.43 L93.04,302.42 L93.29,302.41 L93.55,302.39 L93.81,302.38 L94.06,302.37 L94.32,302.36 L94.58,302.35 L94.83,302.33 L95.09,302.32 L95.35,302.31 L95.60,302.30 L95.86,302.29 L96.12,302.27 L96.37,302.26 L96.63,302.25 L96.89,302.24 L97.14,302.22 L100.15,302.07 L103.16,301.91 L106.16,301.74 L109.17,301.56 L112.18,301.39 L115.19,301.19 L118.19,300.96 L121.20,300.71 L124.21,300.43 L127.21,300.13 L130.22,299.81 L133.23,299.49 L136.24,299.15 L139.24,298.81 L142.25,298.47 L145.26,298.14 L148.26,297.81 L151.27,297.50 L154.28,297.18 L157.29,296.86 L160.29,296.54 L163.30,296.21 L166.31,295.88 L169.32,295.55 L172.32,295.22 L175.33,294.90 L178.34,294.57 L181.34,294.25 L184.35,293.94 L187.36,293.64 L190.37,293.34 L193.37,293.04 L196.38,292.75 L199.39,292.45 L202.39,292.16 L205.40,291.88 L208.41,291.59 L211.42,291.31 L214.42,291.04 L217.43,290.77 L220.44,290.51 L223.44,290.26 L226.45,290.01 L229.46,289.77 L232.47,289.54 L235.47,289.31 L238.48,289.08 L241.49,288.86 L244.50,288.65 L247.50,288.43 L250.51,288.22 L253.52,288.02 L256.52,287.82 L259.53,287.62 L262.54,287.43 L265.55,287.24 L268.55,287.05 L271.56,286.87 L274.57,286.69 L277.57,286.51 L280.58,286.34 L283.59,286.17 L286.60,286.00 L289.60,285.83 L292.61,285.67 L295.62,285.51 L298.63,285.35 L301.63,285.19 L304.64,285.03 L307.65,284.87 L310.65,284.71 L313.66,284.56 L316.67,284.40 L319.68,284.25 L322.68,284.10 L325.69,283.95 L328.70,283.80 L331.70,283.66 L334.71,283.52 L337.72,283.37 L340.73,283.23 L343.73,283.10 L346.74,282.96 L349.75,282.83 L352.75,282.70 L355.76,282.57 L358.77,282.45 L361.78,282.32 L364.78,282.20 L367.79,282.07 L370.80,281.95 L373.81,281.82 L376.81,281.69 L379.82,281.57 L382.83,281.44 L385.83,281.31 L388.84,281.17 L391.85,281.04 L394.86,280.91 L397.86,280.78 L400.87,280.65 L403.88,280.52 L406.88,280.39 L409.89,280.26 L412.90,280.14 L415.91,280.02 L418.91,279.91 L421.92,279.79 L424.93,279.68 L427.94,279.56 L430.94,279.45 L433.95,279.34 L436.96,279.24 L439.96,279.13 L442.97,279.03 L445.98,278.92 L448.99,278.82 L451.99,278.73 L455.00,278.63" stroke="#008000" stroke-dasharray="11.3 4.9"/>
<path clip-path="url(#clipA)" d="M74.30,303.00 L74.56,303.00 L74.81,302.99 L75.07,302.99 L75.33,302.99 L75.58,302.99 L75.84,302.98 L76.10,302.98 L76.35,302.98 L76.61,302.97 L76.87,302.97 L77.12,302.97 L77.38,302.97 L77.64,302.96 L77.89,302.96 L78.15,302.96 L78.41,302.95 L78.66,302.95 L78.92,302.95 L79.18,302.95 L79.43,302.94 L79.69,302.94 L79.95,302.94 L80.20,302.93 L80.46,302.93 L80.72,302.93 L80.97,302.92 L81.23,302.92 L81.49,302.92 L81.74,302.91 L82.00,302.91 L82.26,302.91 L82.51,302.91 L82.77,302.90 L83.03,302.90 L83.28,302.90 L83.54,302.89 L83.80,302.89 L84.05,302.89 L84.31,302.88 L84.57,302.88 L84.82,302.88 L85.08,302.87 L85.34,302.87 L85.59,302.87 L85.85,302.86 L86.11,302.86 L86.36,302.86 L86.62,302.85 L86.88,302.85 L87.13,302.85 L87.39,302.84 L87.65,302.84 L87.90,302.84 L88.16,302.83 L88.42,302.83 L88.67,302.82 L88.93,302.82 L89.19,302.82 L89.44,302.81 L89.70,302.81 L89.96,302.81 L90.21,302.80 L90.47,302.80 L90.73,302.80 L90.98,302.79 L91.24,302.79 L91.50,302.79 L91.75,302.78 L92.01,302.78 L92.27,302.77 L92.52,302.77 L92.78,302.77 L93.04,302.76 L93.29,302.76 L93.55,302.76 L93.81,302.75 L94.06,302.75 L94.32,302.75 L94.58,302.74 L94.83,302.74 L95.09,302.73 L95.35,302.73 L95.60,302.73 L95.86,302.72 L96.12,302.72 L96.37,302.72 L96.63,302.71 L96.89,302.71 L97.14,302.70 L100.15,302.66 L103.16,302.61 L106.16,302.56 L109.17,302.51 L112.18,302.46 L115.19,302.41 L118.19,302.36 L121.20,302.31 L124.21,302.25 L127.21,302.20 L130.22,302.14 L133.23,302.08 L136.24,302.02 L139.24,301.95 L142.25,301.87 L145.26,301.80 L148.26,301.71 L151.27,301.62 L154.28,301.52 L157.29,301.42 L160.29,301.31 L163.30,301.18 L166.31,301.03 L169.32,300.86 L172.32,300.67 L175.33,300.44 L178.34,300.15 L181.34,299.60 L184.35,298.83 L187.36,297.91 L190.37,296.94 L193.37,296.01 L196.38,295.22 L199.39,294.63 L202.39,294.10 L205.40,293.61 L208.41,293.14 L211.42,292.71 L214.42,292.30 L217.43,291.90 L220.44,291.53 L223.44,291.17 L226.45,290.83 L229.46,290.47 L232.47,290.09 L235.47,289.71 L238.48,289.35 L241.49,289.05 L244.50,288.81 L247.50,288.67 L250.51,288.65 L253.52,288.65 L256.52,288.65 L259.53,288.65 L262.54,288.65 L265.55,288.65 L268.55,288.65 L271.56,288.65 L274.57,288.66 L277.57,288.69 L280.58,288.75 L283.59,288.82 L286.60,288.89 L289.60,288.97 L292.61,289.05 L295.62,289.11 L298.63,289.16 L301.63,289.19 L304.64,289.19 L307.65,289.18 L310.65,289.18 L313.66,289.16 L316.67,289.15 L319.68,289.13 L322.68,289.11 L325.69,289.09 L328.70,289.06 L331.70,289.03 L334.71,288.99 L337.72,288.96 L340.73,288.92 L343.73,288.86 L346.74,288.76 L349.75,288.63 L352.75,288.48 L355.76,288.32 L358.77,288.16 L361.78,288.00 L364.78,287.83 L367.79,287.64 L370.80,287.43 L373.81,287.22 L376.81,287.00 L379.82,286.77 L382.83,286.54 L385.83,286.31 L388.84,286.07 L391.85,285.84 L394.86,285.62 L397.86,285.40 L400.87,285.19 L403.88,284.97 L406.88,284.76 L409.89,284.54 L412.90,284.33 L415.91,284.12 L418.91,283.90 L421.92,283.69 L424.93,283.48 L427.94,283.26 L430.94,283.05 L433.95,282.83 L436.96,282.62 L439.96,282.41 L442.97,282.19 L445.98,281.98 L448.99,281.76 L451.99,281.55 L455.00,281.34" stroke="#000000"/>
<path clip-path="url(#clipA)" d="M74.30,303.00 L74.56,302.99 L74.81,302.98 L75.07,302.97 L75.33,302.96 L75.58,302.95 L75.84,302.94 L76.10,302.93 L76.35,302.92 L76.61,302.90 L76.87,302.89 L77.12,302.88 L77.38,302.87 L77.64,302.85 L77.89,302.84 L78.15,302.82 L78.41,302.81 L78.66,302.80 L78.92,302.78 L79.18,302.77 L79.43,302.75 L79.69,302.73 L79.95,302.72 L80.20,302.70 L80.46,302.68 L80.72,302.67 L80.97,302.65 L81.23,302.63 L81.49,302.61 L81.74,302.60 L82.00,302.58 L82.26,302.56 L82.51,302.54 L82.77,302.52 L83.03,302.50 L83.28,302.48 L83.54,302.46 L83.80,302.44 L84.05,302.42 L84.31,302.40 L84.57,302.38 L84.82,302.36 L85.08,302.33 L85.34,302.31 L85.59,302.29 L85.85,302.27 L86.11,302.24 L86.36,302.22 L86.62,302.20 L86.88,302.17 L87.13,302.15 L87.39,302.13 L87.65,302.10 L87.90,302.08 L88.16,302.05 L88.42,302.03 L88.67,302.00 L88.93,301.98 L89.19,301.95 L89.44,301.92 L89.70,301.90 L89.96,301.87 L90.21,301.84 L90.47,301.82 L90.73,301.79 L90.98,301.76 L91.24,301.74 L91.50,301.71 L91.75,301.68 L92.01,301.65 L92.27,301.62 L92.52,301.59 L92.78,301.57 L93.04,301.54 L93.29,301.51 L93.55,301.48 L93.81,301.45 L94.06,301.42 L94.32,301.39 L94.58,301.36 L94.83,301.33 L95.09,301.30 L95.35,301.27 L95.60,301.24 L95.86,301.21 L96.12,301.17 L96.37,301.14 L96.63,301.11 L96.89,301.08 L97.14,301.05 L100.15,300.66 L103.16,300.26 L106.16,299.84 L109.17,299.41 L112.18,298.97 L115.19,298.45 L118.19,297.79 L121.20,297.06 L124.21,296.32 L127.21,295.63 L130.22,295.06 L133.23,294.63 L136.24,294.28 L139.24,293.98 L142.25,293.69 L145.26,293.39 L148.26,293.08 L151.27,292.77 L154.28,292.46 L157.29,292.15 L160.29,291.81 L163.30,291.44 L166.31,290.96 L169.32,290.45 L172.32,289.97 L175.33,289.60 L178.34,289.39 L181.34,289.26 L184.35,289.15 L187.36,289.06 L190.37,288.97 L193.37,288.89 L196.38,288.80 L199.39,288.72 L202.39,288.65 L205.40,288.58 L208.41,288.51 L211.42,288.44 L214.42,288.37 L217.43,288.31 L220.44,288.24 L223.44,288.18 L226.45,288.11 L229.46,288.04 L232.47,287.97 L235.47,287.91 L238.48,287.84 L241.49,287.78 L244.50,287.71 L247.50,287.65 L250.51,287.58 L253.52,287.52 L256.52,287.46 L259.53,287.40 L262.54,287.34 L265.55,287.28 L268.55,287.22 L271.56,287.17 L274.57,287.11 L277.57,287.07 L280.58,287.02 L283.59,286.97 L286.60,286.92 L289.60,286.88 L292.61,286.83 L295.62,286.79 L298.63,286.74 L301.63,286.69 L304.64,286.64 L307.65,286.59 L310.65,286.53 L313.66,286.47 L316.67,286.41 L319.68,286.35 L322.68,286.28 L325.69,286.21 L328.70,286.13 L331.70,286.03 L334.71,285.93 L337.72,285.82 L340.73,285.71 L343.73,285.59 L346.74,285.46 L349.75,285.33 L352.75,285.19 L355.76,285.05 L358.77,284.91 L361.78,284.78 L364.78,284.64 L367.79,284.50 L370.80,284.37 L373.81,284.25 L376.81,284.12 L379.82,284.01 L382.83,283.89 L385.83,283.78 L388.84,283.67 L391.85,283.55 L394.86,283.44 L397.86,283.33 L400.87,283.22 L403.88,283.11 L406.88,283.00 L409.89,282.89 L412.90,282.78 L415.91,282.67 L418.91,282.57 L421.92,282.46 L424.93,282.35 L427.94,282.25 L430.94,282.14 L433.95,282.04 L436.96,281.94 L439.96,281.84 L442.97,281.73 L445.98,281.63 L448.99,281.53 L451.99,281.43 L455.00,281.34" stroke="#000000" stroke-dasharray="11.3 4.9"/>
<path clip-path="url(#clipA)" d="M74.30,303.00 L74.56,303.00 L74.81,302.99 L75.07,302.99 L75.33,302.98 L75.58,302.98 L75.84,302.98 L76.10,302.97 L76.35,302.97 L76.61,302.96 L76.87,302.96 L77.12,302.95 L77.38,302.95 L77.64,302.94 L77.89,302.94 L78.15,302.93 L78.41,302.92 L78.66,302.92 L78.92,302.91 L79.18,302.91 L79.43,302.90 L79.69,302.89 L79.95,302.89 L80.20,302.88 L80.46,302.87 L80.72,302.87 L80.97,302.86 L81.23,302.85 L81.49,302.85 L81.74,302.84 L82.00,302.83 L82.26,302.82 L82.51,302.82 L82.77,302.81 L83.03,302.80 L83.28,302.79 L83.54,302.78 L83.80,302.78 L84.05,302.77 L84.31,302.76 L84.57,302.75 L84.82,302.74 L85.08,302.73 L85.34,302.72 L85.59,302.72 L85.85,302.71 L86.11,302.70 L86.36,302.69 L86.62,302.68 L86.88,302.67 L87.13,302.66 L87.39,302.65 L87.65,302.64 L87.90,302.63 L88.16,302.62 L88.42,302.61 L88.67,302.60 L88.93,302.59 L89.19,302.58 L89.44,302.57 L89.70,302.56 L89.96,302.55 L90.21,302.54 L90.47,302.53 L90.73,302.52 L90.98,302.51 L91.24,302.49 L91.50,302.48 L91.75,302.47 L92.01,302.46 L92.27,302.45 L92.52,302.44 L92.78,302.43 L93.04,302.42 L93.29,302.40 L93.55,302.39 L93.81,302.38 L94.06,302.37 L94.32,302.36 L94.58,302.34 L94.83,302.33 L95.09,302.32 L95.35,302.31 L95.60,302.30 L95.86,302.28 L96.12,302.27 L96.37,302.26 L96.63,302.25 L96.89,302.23 L97.14,302.22 L100.15,302.07 L103.16,301.90 L106.16,301.74 L109.17,301.56 L112.18,301.39 L115.19,301.18 L118.19,300.92 L121.20,300.63 L124.21,300.32 L127.21,300.03 L130.22,299.75 L133.23,299.53 L136.24,299.36 L139.24,299.19 L142.25,299.02 L145.26,298.86 L148.26,298.70 L151.27,298.55 L154.28,298.40 L157.29,298.26 L160.29,298.12 L163.30,298.00 L166.31,297.88 L169.32,297.77 L172.32,297.67 L175.33,297.58 L178.34,297.50 L181.34,297.43 L184.35,297.37 L187.36,297.33 L190.37,297.29 L193.37,297.26 L196.38,297.24 L199.39,297.22 L202.39,297.20 L205.40,297.18 L208.41,297.17 L211.42,297.15 L214.42,297.14 L217.43,297.12 L220.44,297.10 L223.44,297.07 L226.45,297.04 L229.46,297.01 L232.47,296.95 L235.47,296.89 L238.48,296.82 L241.49,296.75 L244.50,296.67 L247.50,296.59 L250.51,296.51 L253.52,296.43 L256.52,296.36 L259.53,296.30 L262.54,296.26 L265.55,296.22 L268.55,296.19 L271.56,296.17 L274.57,296.14 L277.57,296.12 L280.58,296.10 L283.59,296.08 L286.60,296.07 L289.60,296.05 L292.61,296.03 L295.62,296.01 L298.63,295.99 L301.63,295.97 L304.64,295.94 L307.65,295.92 L310.65,295.89 L313.66,295.86 L316.67,295.83 L319.68,295.80 L322.68,295.76 L325.69,295.73 L328.70,295.70 L331.70,295.66 L334.71,295.63 L337.72,295.59 L340.73,295.56 L343.73,295.52 L346.74,295.48 L349.75,295.45 L352.75,295.41 L355.76,295.38 L358.77,295.35 L361.78,295.31 L364.78,295.28 L367.79,295.25 L370.80,295.22 L373.81,295.19 L376.81,295.16 L379.82,295.14 L382.83,295.11 L385.83,295.09 L388.84,295.06 L391.85,295.04 L394.86,295.01 L397.86,294.99 L400.87,294.97 L403.88,294.94 L406.88,294.92 L409.89,294.90 L412.90,294.87 L415.91,294.85 L418.91,294.83 L421.92,294.81 L424.93,294.79 L427.94,294.77 L430.94,294.75 L433.95,294.73 L436.96,294.71 L439.96,294.69 L442.97,294.67 L445.98,294.66 L448.99,294.64 L451.99,294.62 L455.00,294.61" stroke="#00ffff"/>
<path clip-path="url(#clipA)" d="M74.30,303.00 L74.56,302.99 L74.81,302.98 L75.07,302.97 L75.33,302.96 L75.58,302.95 L75.84,302.93 L76.10,302.92 L76.35,302.91 L76.61,302.90 L76.87,302.89 L77.12,302.88 L77.38,302.87 L77.64,302.86 L77.89,302.85 L78.15,302.84 L78.41,302.82 L78.66,302.81 L78.92,302.80 L79.18,302.79 L79.43,302.78 L79.69,302.77 L79.95,302.76 L80.20,302.75 L80.46,302.74 L80.72,302.73 L80.97,302.72 L81.23,302.70 L81.49,302.69 L81.74,302.68 L82.00,302.67 L82.26,302.66 L82.51,302.65 L82.77,302.64 L83.03,302.63 L83.28,302.62 L83.54,302.61 L83.80,302.59 L84.05,302.58 L84.31,302.57 L84.57,302.56 L84.82,302.55 L85.08,302.54 L85.34,302.53 L85.59,302.52 L85.85,302.51 L86.11,302.50 L86.36,302.49 L86.62,302.47 L86.88,302.46 L87.13,302.45 L87.39,302.44 L87.65,302.43 L87.90,302.42 L88.16,302.41 L88.42,302.40 L88.67,302.39 L88.93,302.38 L89.19,302.36 L89.44,302.35 L89.70,302.34 L89.96,302.33 L90.21,302.32 L90.47,302.31 L90.73,302.30 L90.98,302.29 L91.24,302.28 L91.50,302.27 L91.75,302.26 L92.01,302.24 L92.27,302.23 L92.52,302.22 L92.78,302.21 L93.04,302.20 L93.29,302.19 L93.55,302.18 L93.81,302.17 L94.06,302.16 L94.32,302.15 L94.58,302.13 L94.83,302.12 L95.09,302.11 L95.35,302.10 L95.60,302.09 L95.86,302.08 L96.12,302.07 L96.37,302.06 L96.63,302.05 L96.89,302.04 L97.14,302.03 L100.15,301.90 L103.16,301.77 L106.16,301.64 L109.17,301.51 L112.18,301.38 L115.19,301.26 L118.19,301.13 L121.20,301.01 L124.21,300.89 L127.21,300.77 L130.22,300.65 L133.23,300.52 L136.24,300.40 L139.24,300.27 L142.25,300.14 L145.26,300.00 L148.26,299.86 L151.27,299.71 L154.28,299.55 L157.29,299.39 L160.29,299.21 L163.30,299.03 L166.31,298.85 L169.32,298.65 L172.32,298.46 L175.33,298.26 L178.34,298.05 L181.34,297.85 L184.35,297.64 L187.36,297.43 L190.37,297.22 L193.37,297.01 L196.38,296.80 L199.39,296.59 L202.39,296.38 L205.40,296.18 L208.41,295.98 L211.42,295.78 L214.42,295.59 L217.43,295.40 L220.44,295.22 L223.44,295.05 L226.45,294.88 L229.46,294.72 L232.47,294.56 L235.47,294.40 L238.48,294.24 L241.49,294.09 L244.50,293.93 L247.50,293.78 L250.51,293.62 L253.52,293.47 L256.52,293.32 L259.53,293.18 L262.54,293.03 L265.55,292.89 L268.55,292.75 L271.56,292.61 L274.57,292.48 L277.57,292.34 L280.58,292.21 L283.59,292.09 L286.60,291.96 L289.60,291.84 L292.61,291.72 L295.62,291.61 L298.63,291.50 L301.63,291.39 L304.64,291.29 L307.65,291.18 L310.65,291.06 L313.66,290.95 L316.67,290.83 L319.68,290.72 L322.68,290.62 L325.69,290.52 L328.70,290.44 L331.70,290.37 L334.71,290.32 L337.72,290.28 L340.73,290.27 L343.73,290.27 L346.74,290.27 L349.75,290.27 L352.75,290.27 L355.76,290.27 L358.77,290.27 L361.78,290.27 L364.78,290.27 L367.79,290.27 L370.80,290.27 L373.81,290.27 L376.81,290.27 L379.82,290.27 L382.83,290.27 L385.83,290.27 L388.84,290.27 L391.85,290.27 L394.86,290.27 L397.86,290.27 L400.87,290.27 L403.88,290.27 L406.88,290.27 L409.89,290.27 L412.90,290.27 L415.91,290.27 L418.91,290.27 L421.92,290.27 L424.93,290.27 L427.94,290.27 L430.94,290.27 L433.95,290.27 L436.96,290.27 L439.96,290.27 L442.97,290.27 L445.98,290.27 L448.99,290.27 L451.99,290.27 L455.00,290.27" stroke="#00ffff" stroke-dasharray="11.3 4.9"/>
<path clip-path="url(#clipA)" d="M74.30,303.00 L74.56,302.97 L74.81,302.94 L75.07,302.92 L75.33,302.89 L75.58,302.86 L75.84,302.84 L76.10,302.81 L76.35,302.78 L76.61,302.75 L76.87,302.73 L77.12,302.70 L77.38,302.67 L77.64,302.64 L77.89,302.62 L78.15,302.59 L78.41,302.56 L78.66,302.54 L78.92,302.51 L79.18,302.48 L79.43,302.45 L79.69,302.43 L79.95,302.40 L80.20,302.37 L80.46,302.35 L80.72,302.32 L80.97,302.29 L81.23,302.27 L81.49,302.24 L81.74,302.21 L82.00,302.19 L82.26,302.16 L82.51,302.13 L82.77,302.11 L83.03,302.08 L83.28,302.05 L83.54,302.03 L83.80,302.00 L84.05,301.97 L84.31,301.95 L84.57,301.92 L84.82,301.89 L85.08,301.87 L85.34,301.84 L85.59,301.82 L85.85,301.79 L86.11,301.76 L86.36,301.74 L86.62,301.71 L86.88,301.68 L87.13,301.66 L87.39,301.63 L87.65,301.61 L87.90,301.58 L88.16,301.55 L88.42,301.53 L88.67,301.50 L88.93,301.48 L89.19,301.45 L89.44,301.42 L89.70,301.40 L89.96,301.37 L90.21,301.35 L90.47,301.32 L90.73,301.29 L90.98,301.27 L91.24,301.24 L91.50,301.22 L91.75,301.19 L92.01,301.17 L92.27,301.14 L92.52,301.11 L92.78,301.09 L93.04,301.06 L93.29,301.04 L93.55,301.01 L93.81,300.99 L94.06,300.96 L94.32,300.94 L94.58,300.91 L94.83,300.89 L95.09,300.86 L95.35,300.83 L95.60,300.81 L95.86,300.78 L96.12,300.76 L96.37,300.73 L96.63,300.71 L96.89,300.68 L97.14,300.66 L100.15,300.37 L103.16,300.08 L106.16,299.79 L109.17,299.51 L112.18,299.23 L115.19,298.95 L118.19,298.68 L121.20,298.42 L124.21,298.15 L127.21,297.90 L130.22,297.64 L133.23,297.38 L136.24,297.11 L139.24,296.79 L142.25,296.46 L145.26,296.19 L148.26,296.00 L151.27,295.96 L154.28,295.99 L157.29,296.04 L160.29,296.10 L163.30,296.16 L166.31,296.21 L169.32,296.23 L172.32,296.20 L175.33,296.12 L178.34,296.00 L181.34,295.85 L184.35,295.67 L187.36,295.49 L190.37,295.26 L193.37,294.89 L196.38,294.44 L199.39,294.01 L202.39,293.67 L205.40,293.52 L208.41,293.52 L211.42,293.52 L214.42,293.52 L217.43,293.52 L220.44,293.52 L223.44,293.52 L226.45,293.52 L229.46,293.56 L232.47,293.67 L235.47,293.83 L238.48,294.01 L241.49,294.20 L244.50,294.37 L247.50,294.51 L250.51,294.59 L253.52,294.60 L256.52,294.58 L259.53,294.55 L262.54,294.50 L265.55,294.45 L268.55,294.38 L271.56,294.31 L274.57,294.25 L277.57,294.18 L280.58,294.12 L283.59,294.07 L286.60,294.02 L289.60,293.97 L292.61,293.92 L295.62,293.88 L298.63,293.83 L301.63,293.78 L304.64,293.74 L307.65,293.69 L310.65,293.65 L313.66,293.61 L316.67,293.56 L319.68,293.52 L322.68,293.48 L325.69,293.44 L328.70,293.40 L331.70,293.36 L334.71,293.32 L337.72,293.29 L340.73,293.25 L343.73,293.22 L346.74,293.18 L349.75,293.15 L352.75,293.12 L355.76,293.08 L358.77,293.05 L361.78,293.02 L364.78,292.99 L367.79,292.96 L370.80,292.93 L373.81,292.90 L376.81,292.87 L379.82,292.85 L382.83,292.82 L385.83,292.80 L388.84,292.77 L391.85,292.75 L394.86,292.73 L397.86,292.71 L400.87,292.69 L403.88,292.67 L406.88,292.65 L409.89,292.64 L412.90,292.62 L415.91,292.60 L418.91,292.59 L421.92,292.57 L424.93,292.55 L427.94,292.54 L430.94,292.52 L433.95,292.51 L436.96,292.50 L439.96,292.49 L442.97,292.47 L445.98,292.46 L448.99,292.46 L451.99,292.45 L455.00,292.44" stroke="#ffc0cb"/>
<path clip-path="url(#clipA)" d="M74.30,303.00 L74.56,302.93 L74.81,302.85 L75.07,302.78 L75.33,302.71 L75.58,302.63 L75.84,302.56 L76.10,302.49 L76.35,302.42 L76.61,302.34 L76.87,302.27 L77.12,302.20 L77.38,302.12 L77.64,302.05 L77.89,301.98 L78.15,301.90 L78.41,301.83 L78.66,301.76 L78.92,301.69 L79.18,301.61 L79.43,301.54 L79.69,301.47 L79.95,301.39 L80.20,301.32 L80.46,301.25 L80.72,301.17 L80.97,301.10 L81.23,301.03 L81.49,300.96 L81.74,300.88 L82.00,300.81 L82.26,300.74 L82.51,300.66 L82.77,300.59 L83.03,300.52 L83.28,300.44 L83.54,300.37 L83.80,300.30 L84.05,300.23 L84.31,300.15 L84.57,300.08 L84.82,300.01 L85.08,299.93 L85.34,299.86 L85.59,299.79 L85.85,299.71 L86.11,299.64 L86.36,299.57 L86.62,299.49 L86.88,299.42 L87.13,299.35 L87.39,299.28 L87.65,299.20 L87.90,299.13 L88.16,299.06 L88.42,298.98 L88.67,298.91 L88.93,298.84 L89.19,298.76 L89.44,298.69 L89.70,298.62 L89.96,298.55 L90.21,298.47 L90.47,298.40 L90.73,298.33 L90.98,298.25 L91.24,298.18 L91.50,298.11 L91.75,298.03 L92.01,297.96 L92.27,297.89 L92.52,297.82 L92.78,297.74 L93.04,297.67 L93.29,297.60 L93.55,297.52 L93.81,297.45 L94.06,297.38 L94.32,297.30 L94.58,297.23 L94.83,297.15 L95.09,297.08 L95.35,297.00 L95.60,296.92 L95.86,296.85 L96.12,296.77 L96.37,296.69 L96.63,296.62 L96.89,296.54 L97.14,296.46 L100.15,295.54 L103.16,294.62 L106.16,293.74 L109.17,292.93 L112.18,292.21 L115.19,291.59 L118.19,291.02 L121.20,290.50 L124.21,290.00 L127.21,289.52 L130.22,289.04 L133.23,288.56 L136.24,288.08 L139.24,287.63 L142.25,287.19 L145.26,286.79 L148.26,286.44 L151.27,286.13 L154.28,285.85 L157.29,285.58 L160.29,285.32 L163.30,285.08 L166.31,284.85 L169.32,284.63 L172.32,284.42 L175.33,284.23 L178.34,284.04 L181.34,283.87 L184.35,283.71 L187.36,283.56 L190.37,283.41 L193.37,283.27 L196.38,283.12 L199.39,282.97 L202.39,282.83 L205.40,282.69 L208.41,282.56 L211.42,282.45 L214.42,282.35 L217.43,282.27 L220.44,282.20 L223.44,282.16 L226.45,282.15 L229.46,282.15 L232.47,282.15 L235.47,282.15 L238.48,282.15 L241.49,282.15 L244.50,282.15 L247.50,282.15 L250.51,282.15 L253.52,282.15 L256.52,282.15 L259.53,282.15 L262.54,282.15 L265.55,282.15 L268.55,282.15 L271.56,282.15 L274.57,282.15 L277.57,282.15 L280.58,282.15 L283.59,282.15 L286.60,282.15 L289.60,282.15 L292.61,282.15 L295.62,282.15 L298.63,282.15 L301.63,282.15 L304.64,282.15 L307.65,282.15 L310.65,282.16 L313.66,282.16 L316.67,282.17 L319.68,282.18 L322.68,282.19 L325.69,282.21 L328.70,282.22 L331.70,282.24 L334.71,282.25 L337.72,282.27 L340.73,282.28 L343.73,282.30 L346.74,282.32 L349.75,282.33 L352.75,282.35 L355.76,282.36 L358.77,282.37 L361.78,282.38 L364.78,282.39 L367.79,282.40 L370.80,282.41 L373.81,282.42 L376.81,282.42 L379.82,282.42 L382.83,282.42 L385.83,282.42 L388.84,282.42 L391.85,282.42 L394.86,282.42 L397.86,282.42 L400.87,282.42 L403.88,282.42 L406.88,282.42 L409.89,282.42 L412.90,282.42 L415.91,282.42 L418.91,282.42 L421.92,282.42 L424.93,282.42 L427.94,282.42 L430.94,282.42 L433.95,282.42 L436.96,282.42 L439.96,282.42 L442.97,282.42 L445.98,282.42 L448.99,282.42 L451.99,282.42 L455.00,282.42" stroke="#ffc0cb" stroke-dasharray="11.3 4.9"/>
<path clip-path="url(#clipA)" d="M74.30,303.00 L74.56,302.99 L74.81,302.98 L75.07,302.97 L75.33,302.95 L75.58,302.94 L75.84,302.93 L76.10,302.92 L76.35,302.91 L76.61,302.90 L76.87,302.89 L77.12,302.87 L77.38,302.86 L77.64,302.85 L77.89,302.84 L78.15,302.83 L78.41,302.81 L78.66,302.80 L78.92,302.79 L79.18,302.78 L79.43,302.77 L79.69,302.76 L79.95,302.74 L80.20,302.73 L80.46,302.72 L80.72,302.71 L80.97,302.69 L81.23,302.68 L81.49,302.67 L81.74,302.66 L82.00,302.64 L82.26,302.63 L82.51,302.62 L82.77,302.61 L83.03,302.59 L83.28,302.58 L83.54,302.57 L83.80,302.56 L84.05,302.54 L84.31,302.53 L84.57,302.52 L84.82,302.50 L85.08,302.49 L85.34,302.48 L85.59,302.46 L85.85,302.45 L86.11,302.44 L86.36,302.43 L86.62,302.41 L86.88,302.40 L87.13,302.39 L87.39,302.37 L87.65,302.36 L87.90,302.35 L88.16,302.33 L88.42,302.32 L88.67,302.31 L88.93,302.29 L89.19,302.28 L89.44,302.27 L89.70,302.25 L89.96,302.24 L90.21,302.23 L90.47,302.21 L90.73,302.20 L90.98,302.18 L91.24,302.17 L91.50,302.16 L91.75,302.14 L92.01,302.13 L92.27,302.12 L92.52,302.10 L92.78,302.09 L93.04,302.07 L93.29,302.06 L93.55,302.05 L93.81,302.03 L94.06,302.02 L94.32,302.00 L94.58,301.99 L94.83,301.98 L95.09,301.96 L95.35,301.95 L95.60,301.93 L95.86,301.92 L96.12,301.90 L96.37,301.89 L96.63,301.87 L96.89,301.86 L97.14,301.85 L100.15,301.67 L103.16,301.48 L106.16,301.28 L109.17,301.09 L112.18,300.89 L115.19,300.69 L118.19,300.48 L121.20,300.25 L124.21,300.00 L127.21,299.72 L130.22,299.40 L133.23,299.05 L136.24,298.56 L139.24,297.79 L142.25,296.87 L145.26,295.96 L148.26,295.22 L151.27,294.79 L154.28,294.50 L157.29,294.27 L160.29,294.08 L163.30,293.91 L166.31,293.73 L169.32,293.53 L172.32,293.33 L175.33,293.15 L178.34,292.96 L181.34,292.77 L184.35,292.55 L187.36,292.28 L190.37,291.93 L193.37,291.39 L196.38,290.75 L199.39,290.13 L202.39,289.62 L205.40,289.29 L208.41,289.00 L211.42,288.77 L214.42,288.65 L217.43,288.68 L220.44,288.81 L223.44,289.02 L226.45,289.29 L229.46,289.57 L232.47,289.85 L235.47,290.12 L238.48,290.46 L241.49,290.85 L244.50,291.25 L247.50,291.59 L250.51,291.82 L253.52,291.90 L256.52,291.74 L259.53,291.37 L262.54,290.86 L265.55,290.25 L268.55,289.62 L271.56,289.02 L274.57,288.20 L277.57,287.35 L280.58,286.79 L283.59,286.57 L286.60,286.38 L289.60,286.22 L292.61,286.07 L295.62,285.95 L298.63,285.85 L301.63,285.77 L304.64,285.71 L307.65,285.68 L310.65,285.67 L313.66,285.67 L316.67,285.67 L319.68,285.67 L322.68,285.67 L325.69,285.67 L328.70,285.67 L331.70,285.67 L334.71,285.67 L337.72,285.67 L340.73,285.67 L343.73,285.67 L346.74,285.67 L349.75,285.67 L352.75,285.67 L355.76,285.67 L358.77,285.67 L361.78,285.67 L364.78,285.65 L367.79,285.63 L370.80,285.59 L373.81,285.55 L376.81,285.50 L379.82,285.45 L382.83,285.39 L385.83,285.34 L388.84,285.28 L391.85,285.22 L394.86,285.17 L397.86,285.13 L400.87,285.08 L403.88,285.04 L406.88,285.00 L409.89,284.96 L412.90,284.91 L415.91,284.87 L418.91,284.83 L421.92,284.79 L424.93,284.74 L427.94,284.70 L430.94,284.66 L433.95,284.61 L436.96,284.57 L439.96,284.53 L442.97,284.49 L445.98,284.44 L448.99,284.40 L451.99,284.36 L455.00,284.31" stroke="#ffa500"/>
<path clip-path="url(#clipA)" d="M74.30,303.00 L74.56,302.92 L74.81,302.83 L75.07,302.75 L75.33,302.67 L75.58,302.58 L75.84,302.50 L76.10,302.42 L76.35,302.34 L76.61,302.26 L76.87,302.18 L77.12,302.10 L77.38,302.02 L77.64,301.94 L77.89,301.86 L78.15,301.78 L78.41,301.70 L78.66,301.62 L78.92,301.54 L79.18,301.47 L79.43,301.39 L79.69,301.32 L79.95,301.24 L80.20,301.16 L80.46,301.09 L80.72,301.02 L80.97,300.94 L81.23,300.87 L81.49,300.80 L81.74,300.72 L82.00,300.65 L82.26,300.58 L82.51,300.51 L82.77,300.44 L83.03,300.37 L83.28,300.30 L83.54,300.23 L83.80,300.16 L84.05,300.10 L84.31,300.03 L84.57,299.96 L84.82,299.90 L85.08,299.83 L85.34,299.77 L85.59,299.71 L85.85,299.64 L86.11,299.58 L86.36,299.52 L86.62,299.46 L86.88,299.40 L87.13,299.34 L87.39,299.28 L87.65,299.22 L87.90,299.16 L88.16,299.11 L88.42,299.05 L88.67,299.00 L88.93,298.94 L89.19,298.89 L89.44,298.83 L89.70,298.78 L89.96,298.73 L90.21,298.68 L90.47,298.63 L90.73,298.58 L90.98,298.53 L91.24,298.48 L91.50,298.44 L91.75,298.39 L92.01,298.35 L92.27,298.30 L92.52,298.26 L92.78,298.22 L93.04,298.17 L93.29,298.13 L93.55,298.09 L93.81,298.05 L94.06,298.01 L94.32,297.98 L94.58,297.94 L94.83,297.90 L95.09,297.87 L95.35,297.83 L95.60,297.80 L95.86,297.77 L96.12,297.74 L96.37,297.70 L96.63,297.67 L96.89,297.64 L97.14,297.61 L100.15,297.30 L103.16,297.02 L106.16,296.73 L109.17,296.40 L112.18,295.99 L115.19,295.43 L118.19,294.70 L121.20,293.89 L124.21,293.05 L127.21,292.26 L130.22,291.54 L133.23,290.83 L136.24,290.12 L139.24,289.41 L142.25,288.55 L145.26,287.65 L148.26,286.96 L151.27,286.73 L154.28,286.68 L157.29,286.65 L160.29,286.62 L163.30,286.60 L166.31,286.58 L169.32,286.57 L172.32,286.54 L175.33,286.51 L178.34,286.46 L181.34,286.37 L184.35,286.25 L187.36,286.12 L190.37,286.00 L193.37,285.91 L196.38,285.83 L199.39,285.75 L202.39,285.68 L205.40,285.61 L208.41,285.54 L211.42,285.48 L214.42,285.41 L217.43,285.34 L220.44,285.28 L223.44,285.21 L226.45,285.13 L229.46,285.05 L232.47,284.97 L235.47,284.89 L238.48,284.81 L241.49,284.73 L244.50,284.64 L247.50,284.56 L250.51,284.47 L253.52,284.38 L256.52,284.29 L259.53,284.20 L262.54,284.11 L265.55,284.02 L268.55,283.91 L271.56,283.80 L274.57,283.69 L277.57,283.57 L280.58,283.44 L283.59,283.32 L286.60,283.20 L289.60,283.09 L292.61,282.98 L295.62,282.88 L298.63,282.79 L301.63,282.71 L304.64,282.65 L307.65,282.59 L310.65,282.53 L313.66,282.48 L316.67,282.43 L319.68,282.38 L322.68,282.34 L325.69,282.30 L328.70,282.26 L331.70,282.22 L334.71,282.18 L337.72,282.14 L340.73,282.11 L343.73,282.07 L346.74,282.04 L349.75,282.00 L352.75,281.97 L355.76,281.93 L358.77,281.90 L361.78,281.86 L364.78,281.82 L367.79,281.78 L370.80,281.73 L373.81,281.69 L376.81,281.64 L379.82,281.59 L382.83,281.54 L385.83,281.48 L388.84,281.43 L391.85,281.37 L394.86,281.32 L397.86,281.26 L400.87,281.20 L403.88,281.14 L406.88,281.08 L409.89,281.02 L412.90,280.95 L415.91,280.89 L418.91,280.83 L421.92,280.76 L424.93,280.69 L427.94,280.63 L430.94,280.56 L433.95,280.49 L436.96,280.42 L439.96,280.35 L442.97,280.28 L445.98,280.20 L448.99,280.13 L451.99,280.06 L455.00,279.98" stroke="#ffa500" stroke-dasharray="11.3 4.9"/>
<path clip-path="url(#clipA)" d="M74.30,303.00 L74.56,302.93 L74.81,302.86 L75.07,302.79 L75.33,302.72 L75.58,302.65 L75.84,302.57 L76.10,302.50 L76.35,302.43 L76.61,302.35 L76.87,302.28 L77.12,302.21 L77.38,302.13 L77.64,302.06 L77.89,301.98 L78.15,301.90 L78.41,301.83 L78.66,301.75 L78.92,301.67 L79.18,301.59 L79.43,301.51 L79.69,301.42 L79.95,301.34 L80.20,301.26 L80.46,301.17 L80.72,301.09 L80.97,301.00 L81.23,300.92 L81.49,300.83 L81.74,300.75 L82.00,300.66 L82.26,300.58 L82.51,300.50 L82.77,300.41 L83.03,300.33 L83.28,300.25 L83.54,300.17 L83.80,300.09 L84.05,300.01 L84.31,299.94 L84.57,299.86 L84.82,299.79 L85.08,299.72 L85.34,299.65 L85.59,299.58 L85.85,299.51 L86.11,299.44 L86.36,299.37 L86.62,299.31 L86.88,299.24 L87.13,299.18 L87.39,299.12 L87.65,299.05 L87.90,298.99 L88.16,298.93 L88.42,298.86 L88.67,298.80 L88.93,298.74 L89.19,298.68 L89.44,298.62 L89.70,298.55 L89.96,298.49 L90.21,298.43 L90.47,298.37 L90.73,298.30 L90.98,298.24 L91.24,298.17 L91.50,298.11 L91.75,298.04 L92.01,297.98 L92.27,297.91 L92.52,297.84 L92.78,297.77 L93.04,297.71 L93.29,297.64 L93.55,297.57 L93.81,297.50 L94.06,297.43 L94.32,297.36 L94.58,297.29 L94.83,297.22 L95.09,297.15 L95.35,297.08 L95.60,297.01 L95.86,296.95 L96.12,296.88 L96.37,296.81 L96.63,296.74 L96.89,296.67 L97.14,296.61 L100.15,295.88 L103.16,295.24 L106.16,294.64 L109.17,294.07 L112.18,293.55 L115.19,293.02 L118.19,292.45 L121.20,291.89 L124.21,291.40 L127.21,291.03 L130.22,290.83 L133.23,290.89 L136.24,291.29 L139.24,291.85 L142.25,292.46 L145.26,293.31 L148.26,294.18 L151.27,294.72 L154.28,295.11 L157.29,295.47 L160.29,295.77 L163.30,296.01 L166.31,296.17 L169.32,296.23 L172.32,296.20 L175.33,296.13 L178.34,296.01 L181.34,295.86 L184.35,295.68 L187.36,295.49 L190.37,295.25 L193.37,294.83 L196.38,294.32 L199.39,293.81 L202.39,293.42 L205.40,293.25 L208.41,293.26 L211.42,293.28 L214.42,293.31 L217.43,293.36 L220.44,293.41 L223.44,293.46 L226.45,293.52 L229.46,293.60 L232.47,293.74 L235.47,293.90 L238.48,294.08 L241.49,294.25 L244.50,294.41 L247.50,294.53 L250.51,294.60 L253.52,294.60 L256.52,294.58 L259.53,294.55 L262.54,294.50 L265.55,294.45 L268.55,294.38 L271.56,294.31 L274.57,294.25 L277.57,294.18 L280.58,294.12 L283.59,294.07 L286.60,294.02 L289.60,293.97 L292.61,293.92 L295.62,293.88 L298.63,293.83 L301.63,293.78 L304.64,293.74 L307.65,293.69 L310.65,293.65 L313.66,293.61 L316.67,293.56 L319.68,293.52 L322.68,293.48 L325.69,293.44 L328.70,293.40 L331.70,293.36 L334.71,293.32 L337.72,293.29 L340.73,293.25 L343.73,293.22 L346.74,293.18 L349.75,293.15 L352.75,293.12 L355.76,293.08 L358.77,293.05 L361.78,293.02 L364.78,292.99 L367.79,292.96 L370.80,292.93 L373.81,292.90 L376.81,292.87 L379.82,292.85 L382.83,292.82 L385.83,292.80 L388.84,292.77 L391.85,292.75 L394.86,292.73 L397.86,292.71 L400.87,292.69 L403.88,292.67 L406.88,292.65 L409.89,292.64 L412.90,292.62 L415.91,292.60 L418.91,292.59 L421.92,292.57 L424.93,292.55 L427.94,292.54 L430.94,292.52 L433.95,292.51 L436.96,292.50 L439.96,292.49 L442.97,292.47 L445.98,292.46 L448.99,292.46 L451.99,292.45 L455.00,292.44" stroke="#add8e6"/>
<path clip-path="url(#clipA)" d="M74.30,303.00 L74.56,302.94 L74.81,302.88 L75.07,302.82 L75.33,302.75 L75.58,302.69 L75.84,302.63 L76.10,302.57 L76.35,302.51 L76.61,302.46 L76.87,302.40 L77.12,302.34 L77.38,302.28 L77.64,302.22 L77.89,302.17 L78.15,302.11 L78.41,302.06 L78.66,302.00 L78.92,301.95 L79.18,301.90 L79.43,301.84 L79.69,301.79 L79.95,301.74 L80.20,301.69 L80.46,301.64 L80.72,301.59 L80.97,301.54 L81.23,301.50 L81.49,301.45 L81.74,301.41 L82.00,301.36 L82.26,301.32 L82.51,301.27 L82.77,301.23 L83.03,301.19 L83.28,301.15 L83.54,301.11 L83.80,301.07 L84.05,301.03 L84.31,300.99 L84.57,300.95 L84.82,300.91 L85.08,300.87 L85.34,300.84 L85.59,300.80 L85.85,300.76 L86.11,300.73 L86.36,300.69 L86.62,300.66 L86.88,300.62 L87.13,300.59 L87.39,300.55 L87.65,300.52 L87.90,300.48 L88.16,300.45 L88.42,300.41 L88.67,300.38 L88.93,300.35 L89.19,300.31 L89.44,300.28 L89.70,300.24 L89.96,300.21 L90.21,300.18 L90.47,300.14 L90.73,300.11 L90.98,300.07 L91.24,300.04 L91.50,300.00 L91.75,299.97 L92.01,299.93 L92.27,299.90 L92.52,299.86 L92.78,299.83 L93.04,299.79 L93.29,299.76 L93.55,299.72 L93.81,299.68 L94.06,299.65 L94.32,299.61 L94.58,299.57 L94.83,299.53 L95.09,299.49 L95.35,299.46 L95.60,299.42 L95.86,299.38 L96.12,299.34 L96.37,299.30 L96.63,299.26 L96.89,299.22 L97.14,299.18 L100.15,298.71 L103.16,298.25 L106.16,297.80 L109.17,297.40 L112.18,297.06 L115.19,296.77 L118.19,296.48 L121.20,296.20 L124.21,295.92 L127.21,295.67 L130.22,295.42 L133.23,295.19 L136.24,294.99 L139.24,294.80 L142.25,294.64 L145.26,294.50 L148.26,294.39 L151.27,294.32 L154.28,294.25 L157.29,294.18 L160.29,294.12 L163.30,294.06 L166.31,294.00 L169.32,293.94 L172.32,293.89 L175.33,293.84 L178.34,293.79 L181.34,293.74 L184.35,293.69 L187.36,293.65 L190.37,293.61 L193.37,293.57 L196.38,293.53 L199.39,293.49 L202.39,293.45 L205.40,293.42 L208.41,293.39 L211.42,293.36 L214.42,293.33 L217.43,293.30 L220.44,293.27 L223.44,293.24 L226.45,293.22 L229.46,293.20 L232.47,293.17 L235.47,293.15 L238.48,293.13 L241.49,293.11 L244.50,293.09 L247.50,293.07 L250.51,293.05 L253.52,293.04 L256.52,293.02 L259.53,293.01 L262.54,292.99 L265.55,292.98 L268.55,292.96 L271.56,292.95 L274.57,292.93 L277.57,292.92 L280.58,292.90 L283.59,292.89 L286.60,292.88 L289.60,292.86 L292.61,292.85 L295.62,292.84 L298.63,292.82 L301.63,292.81 L304.64,292.80 L307.65,292.79 L310.65,292.77 L313.66,292.76 L316.67,292.75 L319.68,292.74 L322.68,292.72 L325.69,292.71 L328.70,292.70 L331.70,292.69 L334.71,292.68 L337.72,292.67 L340.73,292.66 L343.73,292.65 L346.74,292.64 L349.75,292.63 L352.75,292.62 L355.76,292.61 L358.77,292.60 L361.78,292.59 L364.78,292.58 L367.79,292.57 L370.80,292.56 L373.81,292.55 L376.81,292.55 L379.82,292.54 L382.83,292.53 L385.83,292.52 L388.84,292.52 L391.85,292.51 L394.86,292.50 L397.86,292.50 L400.87,292.49 L403.88,292.49 L406.88,292.48 L409.89,292.48 L412.90,292.47 L415.91,292.47 L418.91,292.46 L421.92,292.46 L424.93,292.46 L427.94,292.45 L430.94,292.45 L433.95,292.45 L436.96,292.44 L439.96,292.44 L442.97,292.44 L445.98,292.44 L448.99,292.44 L451.99,292.44 L455.00,292.44" stroke="#add8e6" stroke-dasharray="11.3 4.9"/>
<path clip-path="url(#clipB)" d="M493.10,32.20 L493.36,32.20 L493.61,32.20 L493.87,32.20 L494.13,32.20 L494.38,32.20 L494.64,32.20 L494.90,32.24 L495.15,32.48 L495.41,33.09 L495.67,33.72 L495.92,34.41 L496.18,35.14 L496.44,35.92 L496.69,36.73 L496.95,37.57 L497.21,38.44 L497.46,39.33 L497.72,40.24 L497.98,41.16 L498.23,42.09 L498.49,43.02 L498.75,43.97 L499.00,44.91 L499.26,45.86 L499.52,46.80 L499.77,47.74 L500.03,48.68 L500.29,49.62 L500.54,50.55 L500.80,51.47 L501.06,52.39 L501.31,53.30 L501.57,54.20 L501.83,55.09 L502.08,55.98 L502.34,56.86 L502.60,57.72 L502.85,58.58 L503.11,59.43 L503.37,60.27 L503.62,61.10 L503.88,61.93 L504.14,62.74 L504.39,63.54 L504.65,64.33 L504.91,65.11 L505.16,65.89 L505.42,66.65 L505.68,67.41 L505.93,68.15 L506.19,68.89 L506.45,69.62 L506.70,70.33 L506.96,71.04 L507.22,71.74 L507.47,72.43 L507.73,73.12 L507.99,73.79 L508.24,74.46 L508.50,75.11 L508.76,75.76 L509.01,76.40 L509.27,77.04 L509.53,77.66 L509.78,78.28 L510.04,78.89 L510.30,79.49 L510.55,80.09 L510.81,80.68 L511.07,81.26 L511.32,81.83 L511.58,82.40 L511.84,82.95 L512.09,83.51 L512.35,84.05 L512.61,84.59 L512.86,85.12 L513.12,85.65 L513.38,86.17 L513.63,86.69 L513.89,87.19 L514.15,87.70 L514.40,88.19 L514.66,88.68 L514.92,89.17 L515.17,89.65 L515.43,90.12 L515.69,90.59 L515.94,91.05 L518.19,94.89 L520.44,98.37 L522.69,101.55 L524.94,104.45 L527.20,107.12 L529.45,109.59 L531.70,111.87 L533.95,114.00 L536.20,115.98 L538.45,117.85 L540.70,119.60 L542.95,121.27 L545.20,122.85 L547.45,124.35 L549.70,125.79 L551.95,127.17 L554.20,128.50 L556.45,129.78 L558.70,131.02 L560.96,132.22 L563.21,133.39 L565.46,134.52 L567.71,135.63 L569.96,136.71 L572.21,137.76 L574.46,138.80 L576.71,139.81 L578.96,140.80 L581.21,141.77 L583.46,142.73 L585.71,143.67 L587.96,144.59 L590.21,145.50 L592.47,146.40 L594.72,147.28 L596.97,148.15 L599.22,149.00 L601.47,149.85 L603.72,150.68 L605.97,151.50 L608.22,152.31 L610.47,153.11 L612.72,153.90 L614.97,154.68 L617.22,155.44 L619.47,156.20 L621.72,156.95 L623.97,157.69 L626.23,158.42 L628.48,159.14 L630.73,159.85 L632.98,160.56 L635.23,161.25 L637.48,161.94 L639.73,162.61 L641.98,163.28 L644.23,163.94 L646.48,164.60 L648.73,165.24 L650.98,165.88 L653.23,166.51 L655.48,167.13 L657.73,167.74 L659.99,168.35 L662.24,168.94 L664.49,169.54 L666.74,170.12 L668.99,170.70 L671.24,171.27 L673.49,171.83 L675.74,172.39 L677.99,172.94 L680.24,173.48 L682.49,174.02 L684.74,174.55 L686.99,175.07 L689.24,175.59 L691.49,176.10 L693.75,176.60 L696.00,177.10 L698.25,177.59 L700.50,178.08 L702.75,178.56 L705.00,179.04 L707.25,179.51 L709.50,179.97 L711.75,180.43 L714.00,180.88 L716.25,181.33 L718.50,181.77 L720.75,182.20 L723.00,182.63 L725.26,183.06 L727.51,183.48 L729.76,183.89 L732.01,184.30 L734.26,184.71 L736.51,185.11 L738.76,185.51 L741.01,185.90 L743.26,186.28 L745.51,186.66 L747.76,187.04 L750.01,187.41 L752.26,187.78 L754.51,188.14 L756.76,188.50 L759.02,188.86 L761.27,189.21 L763.52,189.55 L765.77,189.89 L768.02,190.23 L770.27,190.57 L772.52,190.89 L774.77,191.22 L777.02,191.54 L779.27,191.86 L781.52,192.17 L783.77,192.48 L786.02,192.79 L788.27,193.09 L790.52,193.39 L792.78,193.69 L795.03,193.98 L797.28,194.27 L799.53,194.55 L801.78,194.83 L804.03,195.11 L806.28,195.38 L808.53,195.65 L810.78,195.92 L813.03,196.19 L815.28,196.45 L817.53,196.71 L819.78,196.96 L822.03,197.21 L824.29,197.46 L826.54,197.71 L828.79,197.95 L831.04,198.19 L833.29,198.43 L835.54,198.66 L837.79,198.89 L840.04,199.12 L842.29,199.35 L844.54,199.57 L846.79,199.79 L849.04,200.01 L851.29,200.22 L853.54,200.44 L855.79,200.65 L858.05,200.85 L860.30,201.06 L862.55,201.26 L864.80,201.46 L867.05,201.66 L869.30,201.85 L871.55,202.05 L873.80,202.24" stroke="#ff0000"/>
<path clip-path="url(#clipB)" d="M493.10,32.20 L493.36,36.96 L493.61,43.56 L493.87,51.43 L494.13,61.27 L494.38,73.46 L494.64,87.34 L494.90,105.28 L495.15,125.38 L495.41,141.87 L495.67,154.72 L495.92,166.30 L496.18,176.68 L496.44,185.89 L496.69,193.99 L496.95,201.37 L497.21,208.39 L497.46,214.82 L497.72,220.44 L497.98,225.02 L498.23,228.33 L498.49,230.89 L498.75,233.15 L499.00,235.15 L499.26,236.93 L499.52,238.52 L499.77,239.98 L500.03,241.34 L500.29,242.63 L500.54,243.91 L500.80,245.21 L501.06,246.44 L501.31,247.59 L501.57,248.67 L501.83,249.71 L502.08,250.71 L502.34,251.69 L502.60,252.68 L502.85,253.68 L503.11,254.71 L503.37,255.81 L503.62,256.94 L503.88,258.02 L504.14,259.02 L504.39,259.86 L504.65,260.53 L504.91,261.14 L505.16,261.73 L505.42,262.29 L505.68,262.83 L505.93,263.33 L506.19,263.82 L506.45,264.28 L506.70,264.72 L506.96,265.13 L507.22,265.53 L507.47,265.90 L507.73,266.25 L507.99,266.58 L508.24,266.89 L508.50,267.19 L508.76,267.46 L509.01,267.72 L509.27,267.97 L509.53,268.20 L509.78,268.43 L510.04,268.65 L510.30,268.87 L510.55,269.08 L510.81,269.28 L511.07,269.47 L511.32,269.66 L511.58,269.84 L511.84,270.01 L512.09,270.17 L512.35,270.33 L512.61,270.48 L512.86,270.62 L513.12,270.75 L513.38,270.88 L513.63,271.00 L513.89,271.11 L514.15,271.21 L514.40,271.31 L514.66,271.40 L514.92,271.49 L515.17,271.57 L515.43,271.66 L515.69,271.74 L515.94,271.82 L518.19,272.41 L520.44,272.89 L522.69,273.31 L524.94,273.73 L527.20,274.17 L529.45,274.60 L531.70,275.03 L533.95,275.43 L536.20,275.80 L538.45,276.13 L540.70,276.42 L542.95,276.67 L545.20,276.93 L547.45,277.16 L549.70,277.38 L551.95,277.56 L554.20,277.71 L556.45,277.80 L558.70,277.85 L560.96,277.90 L563.21,277.94 L565.46,277.98 L567.71,278.01 L569.96,278.05 L572.21,278.08 L574.46,278.11 L576.71,278.13 L578.96,278.16 L581.21,278.18 L583.46,278.20 L585.71,278.22 L587.96,278.24 L590.21,278.26 L592.47,278.27 L594.72,278.29 L596.97,278.30 L599.22,278.31 L601.47,278.33 L603.72,278.34 L605.97,278.35 L608.22,278.36 L610.47,278.37 L612.72,278.39 L614.97,278.40 L617.22,278.41 L619.47,278.42 L621.72,278.43 L623.97,278.45 L626.23,278.46 L628.48,278.47 L630.73,278.48 L632.98,278.49 L635.23,278.50 L637.48,278.52 L639.73,278.53 L641.98,278.54 L644.23,278.55 L646.48,278.56 L648.73,278.57 L650.98,278.58 L653.23,278.59 L655.48,278.60 L657.73,278.61 L659.99,278.62 L662.24,278.64 L664.49,278.65 L666.74,278.66 L668.99,278.67 L671.24,278.68 L673.49,278.69 L675.74,278.70 L677.99,278.71 L680.24,278.72 L682.49,278.73 L684.74,278.74 L686.99,278.74 L689.24,278.75 L691.49,278.76 L693.75,278.77 L696.00,278.78 L698.25,278.79 L700.50,278.80 L702.75,278.81 L705.00,278.82 L707.25,278.83 L709.50,278.84 L711.75,278.84 L714.00,278.85 L716.25,278.86 L718.50,278.87 L720.75,278.88 L723.00,278.89 L725.26,278.89 L727.51,278.90 L729.76,278.91 L732.01,278.92 L734.26,278.92 L736.51,278.93 L738.76,278.94 L741.01,278.95 L743.26,278.95 L745.51,278.96 L747.76,278.97 L750.01,278.97 L752.26,278.98 L754.51,278.99 L756.76,278.99 L759.02,279.00 L761.27,279.01 L763.52,279.01 L765.77,279.02 L768.02,279.03 L770.27,279.03 L772.52,279.04 L774.77,279.04 L777.02,279.05 L779.27,279.05 L781.52,279.06 L783.77,279.06 L786.02,279.07 L788.27,279.07 L790.52,279.08 L792.78,279.08 L795.03,279.09 L797.28,279.09 L799.53,279.10 L801.78,279.10 L804.03,279.11 L806.28,279.11 L808.53,279.11 L810.78,279.12 L813.03,279.12 L815.28,279.12 L817.53,279.13 L819.78,279.13 L822.03,279.13 L824.29,279.14 L826.54,279.14 L828.79,279.14 L831.04,279.14 L833.29,279.15 L835.54,279.15 L837.79,279.15 L840.04,279.15 L842.29,279.16 L844.54,279.16 L846.79,279.16 L849.04,279.16 L851.29,279.16 L853.54,279.16 L855.79,279.17 L858.05,279.17 L860.30,279.17 L862.55,279.17 L864.80,279.17 L867.05,279.17 L869.30,279.17 L871.55,279.17 L873.80,279.17" stroke="#ff0000" stroke-dasharray="11.3 4.9"/>
<path clip-path="url(#clipB)" d="M493.10,303.00 L493.36,303.00 L493.61,302.98 L493.87,302.97 L494.13,302.94 L494.38,302.91 L494.64,302.87 L494.90,302.79 L495.15,302.66 L495.41,302.50 L495.67,302.31 L495.92,302.08 L496.18,301.76 L496.44,301.34 L496.69,300.84 L496.95,300.28 L497.21,299.69 L497.46,299.09 L497.72,298.46 L497.98,297.75 L498.23,296.98 L498.49,296.16 L498.75,295.29 L499.00,294.39 L499.26,293.46 L499.52,292.53 L499.77,291.59 L500.03,290.65 L500.29,289.74 L500.54,288.85 L500.80,287.97 L501.06,287.07 L501.31,286.16 L501.57,285.25 L501.83,284.33 L502.08,283.41 L502.34,282.49 L502.60,281.58 L502.85,280.67 L503.11,279.78 L503.37,278.90 L503.62,278.03 L503.88,277.19 L504.14,276.37 L504.39,275.55 L504.65,274.75 L504.91,273.95 L505.16,273.17 L505.42,272.39 L505.68,271.62 L505.93,270.86 L506.19,270.10 L506.45,269.36 L506.70,268.62 L506.96,267.89 L507.22,267.17 L507.47,266.45 L507.73,265.74 L507.99,265.04 L508.24,264.34 L508.50,263.63 L508.76,262.92 L509.01,262.21 L509.27,261.50 L509.53,260.79 L509.78,260.10 L510.04,259.41 L510.30,258.74 L510.55,258.08 L510.81,257.45 L511.07,256.83 L511.32,256.24 L511.58,255.68 L511.84,255.15 L512.09,254.64 L512.35,254.18 L512.61,253.75 L512.86,253.35 L513.12,252.96 L513.38,252.59 L513.63,252.22 L513.89,251.85 L514.15,251.46 L514.40,251.09 L514.66,250.71 L514.92,250.34 L515.17,249.98 L515.43,249.62 L515.69,249.26 L515.94,248.90 L518.19,245.94 L520.44,243.23 L522.69,240.73 L524.94,238.43 L527.20,236.30 L529.45,234.33 L531.70,232.50 L533.95,230.78 L536.20,229.18 L538.45,227.68 L540.70,226.26 L542.95,224.92 L545.20,223.66 L547.45,222.46 L549.70,221.31 L551.95,220.22 L554.20,219.18 L556.45,218.19 L558.70,217.23 L560.96,216.31 L563.21,215.42 L565.46,214.57 L567.71,213.75 L569.96,212.95 L572.21,212.17 L574.46,211.43 L576.71,210.70 L578.96,209.99 L581.21,209.31 L583.46,208.64 L585.71,207.99 L587.96,207.35 L590.21,206.74 L592.47,206.13 L594.72,205.55 L596.97,204.97 L599.22,204.41 L601.47,203.87 L603.72,203.33 L605.97,202.81 L608.22,202.30 L610.47,201.80 L612.72,201.32 L614.97,200.84 L617.22,200.38 L619.47,199.92 L621.72,199.48 L623.97,199.04 L626.23,198.62 L628.48,198.20 L630.73,197.80 L632.98,197.40 L635.23,197.01 L637.48,196.63 L639.73,196.26 L641.98,195.90 L644.23,195.54 L646.48,195.20 L648.73,194.86 L650.98,194.53 L653.23,194.20 L655.48,193.89 L657.73,193.58 L659.99,193.28 L662.24,192.98 L664.49,192.70 L666.74,192.42 L668.99,192.14 L671.24,191.88 L673.49,191.62 L675.74,191.36 L677.99,191.11 L680.24,190.87 L682.49,190.64 L684.74,190.41 L686.99,190.18 L689.24,189.97 L691.49,189.75 L693.75,189.55 L696.00,189.35 L698.25,189.15 L700.50,188.96 L702.75,188.77 L705.00,188.59 L707.25,188.42 L709.50,188.25 L711.75,188.08 L714.00,187.92 L716.25,187.77 L718.50,187.61 L720.75,187.47 L723.00,187.32 L725.26,187.19 L727.51,187.05 L729.76,186.92 L732.01,186.80 L734.26,186.68 L736.51,186.56 L738.76,186.44 L741.01,186.33 L743.26,186.23 L745.51,186.12 L747.76,186.03 L750.01,185.93 L752.26,185.84 L754.51,185.75 L756.76,185.67 L759.02,185.58 L761.27,185.50 L763.52,185.43 L765.77,185.36 L768.02,185.29 L770.27,185.22 L772.52,185.16 L774.77,185.10 L777.02,185.04 L779.27,184.99 L781.52,184.93 L783.77,184.88 L786.02,184.84 L788.27,184.79 L790.52,184.75 L792.78,184.71 L795.03,184.68 L797.28,184.64 L799.53,184.61 L801.78,184.58 L804.03,184.55 L806.28,184.53 L808.53,184.50 L810.78,184.48 L813.03,184.46 L815.28,184.45 L817.53,184.43 L819.78,184.42 L822.03,184.41 L824.29,184.40 L826.54,184.39 L828.79,184.39 L831.04,184.38 L833.29,184.38 L835.54,184.38 L837.79,184.38 L840.04,184.38 L842.29,184.39 L844.54,184.39 L846.79,184.40 L849.04,184.41 L851.29,184.42 L853.54,184.43 L855.79,184.45 L858.05,184.46 L860.30,184.48 L862.55,184.49 L864.80,184.51 L867.05,184.53 L869.30,184.55 L871.55,184.57 L873.80,184.60" stroke="#0000ff"/>
<path clip-path="url(#clipB)" d="M493.10,303.00 L493.36,300.42 L493.61,296.62 L493.87,292.00 L494.13,285.12 L494.38,276.74 L494.64,270.18 L494.90,265.77 L495.15,262.18 L495.41,259.43 L495.67,257.27 L495.92,255.43 L496.18,253.84 L496.44,252.42 L496.69,251.07 L496.95,249.67 L497.21,248.25 L497.46,246.90 L497.72,245.68 L497.98,244.70 L498.23,244.01 L498.49,243.70 L498.75,243.64 L499.00,243.59 L499.26,243.54 L499.52,243.50 L499.77,243.47 L500.03,243.45 L500.29,243.43 L500.54,243.43 L500.80,243.43 L501.06,243.48 L501.31,243.60 L501.57,243.77 L501.83,243.98 L502.08,244.22 L502.34,244.50 L502.60,244.79 L502.85,245.09 L503.11,245.40 L503.37,245.70 L503.62,245.99 L503.88,246.26 L504.14,246.53 L504.39,246.83 L504.65,247.13 L504.91,247.44 L505.16,247.76 L505.42,248.09 L505.68,248.43 L505.93,248.78 L506.19,249.13 L506.45,249.48 L506.70,249.84 L506.96,250.19 L507.22,250.55 L507.47,250.91 L507.73,251.27 L507.99,251.62 L508.24,251.97 L508.50,252.31 L508.76,252.65 L509.01,252.98 L509.27,253.30 L509.53,253.62 L509.78,253.92 L510.04,254.21 L510.30,254.49 L510.55,254.78 L510.81,255.06 L511.07,255.34 L511.32,255.62 L511.58,255.89 L511.84,256.16 L512.09,256.42 L512.35,256.67 L512.61,256.92 L512.86,257.15 L513.12,257.36 L513.38,257.57 L513.63,257.76 L513.89,257.94 L514.15,258.11 L514.40,258.29 L514.66,258.46 L514.92,258.62 L515.17,258.79 L515.43,258.95 L515.69,259.11 L515.94,259.27 L518.19,260.54 L520.44,261.62 L522.69,262.51 L524.94,263.21 L527.20,263.74 L529.45,264.23 L531.70,264.80 L533.95,265.41 L536.20,266.00 L538.45,266.48 L540.70,266.81 L542.95,267.07 L545.20,267.32 L547.45,267.53 L549.70,267.72 L551.95,267.87 L554.20,267.99 L556.45,268.06 L558.70,268.11 L560.96,268.16 L563.21,268.20 L565.46,268.24 L567.71,268.28 L569.96,268.32 L572.21,268.35 L574.46,268.38 L576.71,268.41 L578.96,268.44 L581.21,268.47 L583.46,268.49 L585.71,268.51 L587.96,268.53 L590.21,268.55 L592.47,268.56 L594.72,268.58 L596.97,268.59 L599.22,268.59 L601.47,268.60 L603.72,268.61 L605.97,268.61 L608.22,268.61 L610.47,268.61 L612.72,268.61 L614.97,268.61 L617.22,268.61 L619.47,268.61 L621.72,268.61 L623.97,268.61 L626.23,268.61 L628.48,268.61 L630.73,268.61 L632.98,268.61 L635.23,268.61 L637.48,268.61 L639.73,268.61 L641.98,268.61 L644.23,268.61 L646.48,268.61 L648.73,268.61 L650.98,268.61 L653.23,268.61 L655.48,268.61 L657.73,268.61 L659.99,268.61 L662.24,268.61 L664.49,268.61 L666.74,268.61 L668.99,268.61 L671.24,268.61 L673.49,268.61 L675.74,268.61 L677.99,268.61 L680.24,268.61 L682.49,268.61 L684.74,268.61 L686.99,268.61 L689.24,268.61 L691.49,268.61 L693.75,268.61 L696.00,268.61 L698.25,268.61 L700.50,268.61 L702.75,268.61 L705.00,268.61 L707.25,268.61 L709.50,268.61 L711.75,268.61 L714.00,268.61 L716.25,268.61 L718.50,268.61 L720.75,268.61 L723.00,268.61 L725.26,268.61 L727.51,268.61 L729.76,268.61 L732.01,268.61 L734.26,268.61 L736.51,268.61 L738.76,268.61 L741.01,268.61 L743.26,268.61 L745.51,268.61 L747.76,268.61 L750.01,268.61 L752.26,268.61 L754.51,268.61 L756.76,268.61 L759.02,268.61 L761.27,268.61 L763.52,268.61 L765.77,268.61 L768.02,268.61 L770.27,268.61 L772.52,268.61 L774.77,268.61 L777.02,268.61 L779.27,268.61 L781.52,268.61 L783.77,268.61 L786.02,268.61 L788.27,268.61 L790.52,268.61 L792.78,268.61 L795.03,268.61 L797.28,268.61 L799.53,268.61 L801.78,268.61 L804.03,268.61 L806.28,268.61 L808.53,268.61 L810.78,268.61 L813.03,268.61 L815.28,268.61 L817.53,268.61 L819.78,268.61 L822.03,268.61 L824.29,268.61 L826.54,268.61 L828.79,268.61 L831.04,268.61 L833.29,268.61 L835.54,268.61 L837.79,268.61 L840.04,268.61 L842.29,268.61 L844.54,268.61 L846.79,268.61 L849.04,268.61 L851.29,268.61 L853.54,268.61 L855.79,268.61 L858.05,268.61 L860.30,268.61 L862.55,268.61 L864.80,268.61 L867.05,268.61 L869.30,268.61 L871.55,268.61 L873.80,268.61" stroke="#0000ff" stroke-dasharray="11.3 4.9"/>
<path clip-path="url(#clipB)" d="M493.10,303.00 L493.36,302.97 L493.61,302.94 L493.87,302.91 L494.13,302.88 L494.38,302.85 L494.64,302.82 L494.90,302.79 L495.15,302.76 L495.41,302.73 L495.67,302.70 L495.92,302.67 L496.18,302.64 L496.44,302.61 L496.69,302.58 L496.95,302.56 L497.21,302.53 L497.46,302.50 L497.72,302.47 L497.98,302.45 L498.23,302.42 L498.49,302.40 L498.75,302.37 L499.00,302.35 L499.26,302.32 L499.52,302.30 L499.77,302.27 L500.03,302.25 L500.29,302.23 L500.54,302.20 L500.80,302.18 L501.06,302.16 L501.31,302.14 L501.57,302.12 L501.83,302.09 L502.08,302.07 L502.34,302.05 L502.60,302.03 L502.85,302.01 L503.11,301.99 L503.37,301.97 L503.62,301.95 L503.88,301.93 L504.14,301.91 L504.39,301.89 L504.65,301.88 L504.91,301.86 L505.16,301.84 L505.42,301.82 L505.68,301.80 L505.93,301.78 L506.19,301.77 L506.45,301.75 L506.70,301.73 L506.96,301.71 L507.22,301.69 L507.47,301.68 L507.73,301.66 L507.99,301.64 L508.24,301.63 L508.50,301.61 L508.76,301.59 L509.01,301.58 L509.27,301.56 L509.53,301.54 L509.78,301.53 L510.04,301.51 L510.30,301.49 L510.55,301.48 L510.81,301.46 L511.07,301.44 L511.32,301.43 L511.58,301.41 L511.84,301.39 L512.09,301.38 L512.35,301.36 L512.61,301.35 L512.86,301.33 L513.12,301.31 L513.38,301.30 L513.63,301.28 L513.89,301.27 L514.15,301.25 L514.40,301.23 L514.66,301.22 L514.92,301.20 L515.17,301.19 L515.43,301.17 L515.69,301.16 L515.94,301.14 L518.19,301.01 L520.44,300.88 L522.69,300.76 L524.94,300.64 L527.20,300.51 L529.45,300.39 L531.70,300.26 L533.95,300.14 L536.20,300.01 L538.45,299.89 L540.70,299.77 L542.95,299.65 L545.20,299.53 L547.45,299.41 L549.70,299.29 L551.95,299.16 L554.20,299.03 L556.45,298.90 L558.70,298.76 L560.96,298.61 L563.21,298.46 L565.46,298.30 L567.71,298.14 L569.96,297.98 L572.21,297.80 L574.46,297.63 L576.71,297.45 L578.96,297.27 L581.21,297.09 L583.46,296.90 L585.71,296.72 L587.96,296.53 L590.21,296.33 L592.47,296.13 L594.72,295.92 L596.97,295.70 L599.22,295.48 L601.47,295.25 L603.72,295.03 L605.97,294.80 L608.22,294.58 L610.47,294.37 L612.72,294.16 L614.97,293.95 L617.22,293.76 L619.47,293.58 L621.72,293.41 L623.97,293.25 L626.23,293.10 L628.48,292.94 L630.73,292.80 L632.98,292.65 L635.23,292.51 L637.48,292.38 L639.73,292.24 L641.98,292.11 L644.23,291.98 L646.48,291.85 L648.73,291.72 L650.98,291.59 L653.23,291.47 L655.48,291.34 L657.73,291.21 L659.99,291.08 L662.24,290.94 L664.49,290.81 L666.74,290.67 L668.99,290.54 L671.24,290.41 L673.49,290.27 L675.74,290.14 L677.99,290.01 L680.24,289.88 L682.49,289.74 L684.74,289.61 L686.99,289.48 L689.24,289.35 L691.49,289.21 L693.75,289.08 L696.00,288.94 L698.25,288.81 L700.50,288.67 L702.75,288.53 L705.00,288.39 L707.25,288.24 L709.50,288.10 L711.75,287.95 L714.00,287.80 L716.25,287.65 L718.50,287.50 L720.75,287.35 L723.00,287.19 L725.26,287.04 L727.51,286.88 L729.76,286.73 L732.01,286.57 L734.26,286.41 L736.51,286.25 L738.76,286.09 L741.01,285.93 L743.26,285.76 L745.51,285.60 L747.76,285.44 L750.01,285.28 L752.26,285.11 L754.51,284.95 L756.76,284.79 L759.02,284.62 L761.27,284.46 L763.52,284.29 L765.77,284.13 L768.02,283.97 L770.27,283.80 L772.52,283.64 L774.77,283.48 L777.02,283.32 L779.27,283.16 L781.52,283.00 L783.77,282.84 L786.02,282.68 L788.27,282.52 L790.52,282.37 L792.78,282.21 L795.03,282.06 L797.28,281.90 L799.53,281.75 L801.78,281.60 L804.03,281.45 L806.28,281.30 L808.53,281.15 L810.78,281.00 L813.03,280.85 L815.28,280.70 L817.53,280.56 L819.78,280.41 L822.03,280.26 L824.29,280.11 L826.54,279.97 L828.79,279.82 L831.04,279.68 L833.29,279.53 L835.54,279.39 L837.79,279.24 L840.04,279.10 L842.29,278.96 L844.54,278.81 L846.79,278.67 L849.04,278.53 L851.29,278.39 L853.54,278.25 L855.79,278.11 L858.05,277.97 L860.30,277.83 L862.55,277.69 L864.80,277.55 L867.05,277.41 L869.30,277.28 L871.55,277.14 L873.80,277.00" stroke="#008000"/>
<path clip-path="url(#clipB)" d="M493.10,303.00 L493.36,303.00 L493.61,302.98 L493.87,302.96 L494.13,302.93 L494.38,302.88 L494.64,302.84 L494.90,302.76 L495.15,302.45 L495.41,301.91 L495.67,301.20 L495.92,300.40 L496.18,299.57 L496.44,298.59 L496.69,297.30 L496.95,295.78 L497.21,294.10 L497.46,292.33 L497.72,290.55 L497.98,288.84 L498.23,287.27 L498.49,285.90 L498.75,284.83 L499.00,283.91 L499.26,283.05 L499.52,282.25 L499.77,281.51 L500.03,280.80 L500.29,280.13 L500.54,279.49 L500.80,278.87 L501.06,278.26 L501.31,277.66 L501.57,277.06 L501.83,276.44 L502.08,275.81 L502.34,275.16 L502.60,274.48 L502.85,273.81 L503.11,273.14 L503.37,272.46 L503.62,271.80 L503.88,271.13 L504.14,270.47 L504.39,269.81 L504.65,269.15 L504.91,268.50 L505.16,267.85 L505.42,267.20 L505.68,266.56 L505.93,265.91 L506.19,265.27 L506.45,264.62 L506.70,263.98 L506.96,263.34 L507.22,262.71 L507.47,262.08 L507.73,261.45 L507.99,260.84 L508.24,260.23 L508.50,259.63 L508.76,259.05 L509.01,258.47 L509.27,257.91 L509.53,257.34 L509.78,256.78 L510.04,256.22 L510.30,255.67 L510.55,255.11 L510.81,254.56 L511.07,254.01 L511.32,253.47 L511.58,252.93 L511.84,252.39 L512.09,251.86 L512.35,251.33 L512.61,250.80 L512.86,250.28 L513.12,249.76 L513.38,249.25 L513.63,248.74 L513.89,248.23 L514.15,247.73 L514.40,247.24 L514.66,246.75 L514.92,246.26 L515.17,245.78 L515.43,245.30 L515.69,244.83 L515.94,244.36 L518.19,240.53 L520.44,237.29 L522.69,234.41 L524.94,231.84 L527.20,229.55 L529.45,227.49 L531.70,225.65 L533.95,223.98 L536.20,222.48 L538.45,221.13 L540.70,219.91 L542.95,218.80 L545.20,217.80 L547.45,216.89 L549.70,216.08 L551.95,215.33 L554.20,214.66 L556.45,214.06 L558.70,213.51 L560.96,213.01 L563.21,212.56 L565.46,212.15 L567.71,211.78 L569.96,211.45 L572.21,211.15 L574.46,210.87 L576.71,210.62 L578.96,210.40 L581.21,210.20 L583.46,210.01 L585.71,209.85 L587.96,209.69 L590.21,209.56 L592.47,209.43 L594.72,209.32 L596.97,209.22 L599.22,209.13 L601.47,209.05 L603.72,208.97 L605.97,208.90 L608.22,208.84 L610.47,208.79 L612.72,208.73 L614.97,208.69 L617.22,208.65 L619.47,208.61 L621.72,208.58 L623.97,208.55 L626.23,208.52 L628.48,208.49 L630.73,208.47 L632.98,208.45 L635.23,208.43 L637.48,208.41 L639.73,208.40 L641.98,208.38 L644.23,208.37 L646.48,208.36 L648.73,208.35 L650.98,208.34 L653.23,208.33 L655.48,208.32 L657.73,208.32 L659.99,208.31 L662.24,208.31 L664.49,208.30 L666.74,208.30 L668.99,208.29 L671.24,208.29 L673.49,208.28 L675.74,208.28 L677.99,208.28 L680.24,208.28 L682.49,208.27 L684.74,208.27 L686.99,208.27 L689.24,208.27 L691.49,208.27 L693.75,208.27 L696.00,208.26 L698.25,208.26 L700.50,208.26 L702.75,208.26 L705.00,208.26 L707.25,208.26 L709.50,208.26 L711.75,208.26 L714.00,208.26 L716.25,208.26 L718.50,208.26 L720.75,208.26 L723.00,208.26 L725.26,208.26 L727.51,208.25 L729.76,208.25 L732.01,208.25 L734.26,208.25 L736.51,208.25 L738.76,208.25 L741.01,208.25 L743.26,208.25 L745.51,208.25 L747.76,208.25 L750.01,208.25 L752.26,208.25 L754.51,208.25 L756.76,208.25 L759.02,208.25 L761.27,208.25 L763.52,208.25 L765.77,208.25 L768.02,208.25 L770.27,208.25 L772.52,208.25 L774.77,208.25 L777.02,208.25 L779.27,208.25 L781.52,208.25 L783.77,208.25 L786.02,208.25 L788.27,208.25 L790.52,208.25 L792.78,208.25 L795.03,208.25 L797.28,208.25 L799.53,208.25 L801.78,208.25 L804.03,208.25 L806.28,208.25 L808.53,208.25 L810.78,208.25 L813.03,208.25 L815.28,208.25 L817.53,208.25 L819.78,208.25 L822.03,208.25 L824.29,208.25 L826.54,208.25 L828.79,208.25 L831.04,208.25 L833.29,208.25 L835.54,208.25 L837.79,208.25 L840.04,208.25 L842.29,208.25 L844.54,208.25 L846.79,208.25 L849.04,208.25 L851.29,208.25 L853.54,208.25 L855.79,208.25 L858.05,208.25 L860.30,208.25 L862.55,208.25 L864.80,208.25 L867.05,208.25 L869.30,208.25 L871.55,208.25 L873.80,208.25" stroke="#008000" stroke-dasharray="11.3 4.9"/>
<path clip-path="url(#clipB)" d="M493.10,303.00 L493.36,303.00 L493.61,302.99 L493.87,302.99 L494.13,302.99 L494.38,302.98 L494.64,302.98 L494.90,302.97 L495.15,302.97 L495.41,302.97 L495.67,302.96 L495.92,302.96 L496.18,302.96 L496.44,302.95 L496.69,302.95 L496.95,302.95 L497.21,302.94 L497.46,302.94 L497.72,302.93 L497.98,302.93 L498.23,302.93 L498.49,302.92 L498.75,302.92 L499.00,302.92 L499.26,302.91 L499.52,302.91 L499.77,302.91 L500.03,302.90 L500.29,302.90 L500.54,302.89 L500.80,302.89 L501.06,302.89 L501.31,302.88 L501.57,302.88 L501.83,302.88 L502.08,302.87 L502.34,302.87 L502.60,302.86 L502.85,302.86 L503.11,302.86 L503.37,302.85 L503.62,302.85 L503.88,302.85 L504.14,302.84 L504.39,302.84 L504.65,302.84 L504.91,302.83 L505.16,302.83 L505.42,302.82 L505.68,302.82 L505.93,302.82 L506.19,302.81 L506.45,302.81 L506.70,302.81 L506.96,302.80 L507.22,302.80 L507.47,302.80 L507.73,302.79 L507.99,302.79 L508.24,302.78 L508.50,302.78 L508.76,302.78 L509.01,302.77 L509.27,302.77 L509.53,302.77 L509.78,302.76 L510.04,302.76 L510.30,302.76 L510.55,302.75 L510.81,302.75 L511.07,302.74 L511.32,302.74 L511.58,302.74 L511.84,302.73 L512.09,302.73 L512.35,302.73 L512.61,302.72 L512.86,302.72 L513.12,302.72 L513.38,302.71 L513.63,302.71 L513.89,302.70 L514.15,302.70 L514.40,302.70 L514.66,302.69 L514.92,302.69 L515.17,302.69 L515.43,302.68 L515.69,302.68 L515.94,302.68 L518.19,302.64 L520.44,302.61 L522.69,302.58 L524.94,302.55 L527.20,302.51 L529.45,302.48 L531.70,302.45 L533.95,302.42 L536.20,302.39 L538.45,302.36 L540.70,302.33 L542.95,302.30 L545.20,302.27 L547.45,302.25 L549.70,302.22 L551.95,302.19 L554.20,302.16 L556.45,302.13 L558.70,302.09 L560.96,302.06 L563.21,302.02 L565.46,301.99 L567.71,301.95 L569.96,301.90 L572.21,301.86 L574.46,301.81 L576.71,301.75 L578.96,301.69 L581.21,301.63 L583.46,301.57 L585.71,301.50 L587.96,301.43 L590.21,301.36 L592.47,301.29 L594.72,301.22 L596.97,301.15 L599.22,301.08 L601.47,301.01 L603.72,300.94 L605.97,300.87 L608.22,300.81 L610.47,300.74 L612.72,300.68 L614.97,300.62 L617.22,300.55 L619.47,300.49 L621.72,300.42 L623.97,300.36 L626.23,300.30 L628.48,300.23 L630.73,300.17 L632.98,300.10 L635.23,300.04 L637.48,299.98 L639.73,299.91 L641.98,299.85 L644.23,299.78 L646.48,299.72 L648.73,299.65 L650.98,299.59 L653.23,299.52 L655.48,299.45 L657.73,299.39 L659.99,299.32 L662.24,299.25 L664.49,299.19 L666.74,299.12 L668.99,299.06 L671.24,298.99 L673.49,298.93 L675.74,298.87 L677.99,298.81 L680.24,298.75 L682.49,298.69 L684.74,298.64 L686.99,298.58 L689.24,298.53 L691.49,298.48 L693.75,298.42 L696.00,298.37 L698.25,298.32 L700.50,298.27 L702.75,298.22 L705.00,298.17 L707.25,298.13 L709.50,298.08 L711.75,298.04 L714.00,297.99 L716.25,297.95 L718.50,297.91 L720.75,297.87 L723.00,297.83 L725.26,297.79 L727.51,297.75 L729.76,297.71 L732.01,297.67 L734.26,297.64 L736.51,297.60 L738.76,297.56 L741.01,297.53 L743.26,297.49 L745.51,297.45 L747.76,297.42 L750.01,297.38 L752.26,297.35 L754.51,297.31 L756.76,297.28 L759.02,297.25 L761.27,297.21 L763.52,297.18 L765.77,297.15 L768.02,297.12 L770.27,297.09 L772.52,297.06 L774.77,297.03 L777.02,297.00 L779.27,296.97 L781.52,296.94 L783.77,296.92 L786.02,296.89 L788.27,296.87 L790.52,296.84 L792.78,296.82 L795.03,296.80 L797.28,296.78 L799.53,296.75 L801.78,296.73 L804.03,296.71 L806.28,296.69 L808.53,296.67 L810.78,296.65 L813.03,296.63 L815.28,296.61 L817.53,296.59 L819.78,296.57 L822.03,296.55 L824.29,296.53 L826.54,296.52 L828.79,296.50 L831.04,296.48 L833.29,296.46 L835.54,296.45 L837.79,296.43 L840.04,296.41 L842.29,296.40 L844.54,296.38 L846.79,296.37 L849.04,296.35 L851.29,296.34 L853.54,296.33 L855.79,296.31 L858.05,296.30 L860.30,296.29 L862.55,296.28 L864.80,296.27 L867.05,296.26 L869.30,296.25 L871.55,296.24 L873.80,296.23" stroke="#000000"/>
<path clip-path="url(#clipB)" d="M493.10,303.00 L493.36,302.07 L493.61,301.12 L493.87,300.14 L494.13,299.13 L494.38,298.10 L494.64,297.04 L494.90,295.96 L495.15,294.86 L495.41,293.73 L495.67,292.58 L495.92,291.41 L496.18,290.23 L496.44,289.02 L496.69,287.79 L496.95,286.54 L497.21,285.19 L497.46,283.71 L497.72,282.13 L497.98,280.47 L498.23,278.77 L498.49,277.04 L498.75,275.32 L499.00,273.62 L499.26,271.99 L499.52,270.44 L499.77,269.00 L500.03,267.69 L500.29,266.55 L500.54,265.60 L500.80,264.86 L501.06,264.18 L501.31,263.52 L501.57,262.88 L501.83,262.27 L502.08,261.69 L502.34,261.14 L502.60,260.64 L502.85,260.17 L503.11,259.74 L503.37,259.36 L503.62,259.03 L503.88,258.76 L504.14,258.54 L504.39,258.37 L504.65,258.27 L504.91,258.18 L505.16,258.09 L505.42,258.00 L505.68,257.93 L505.93,257.85 L506.19,257.79 L506.45,257.73 L506.70,257.67 L506.96,257.63 L507.22,257.59 L507.47,257.55 L507.73,257.53 L507.99,257.51 L508.24,257.51 L508.50,257.51 L508.76,257.51 L509.01,257.52 L509.27,257.52 L509.53,257.53 L509.78,257.55 L510.04,257.56 L510.30,257.58 L510.55,257.59 L510.81,257.61 L511.07,257.63 L511.32,257.66 L511.58,257.68 L511.84,257.70 L512.09,257.73 L512.35,257.75 L512.61,257.77 L512.86,257.80 L513.12,257.82 L513.38,257.85 L513.63,257.87 L513.89,257.90 L514.15,257.92 L514.40,257.94 L514.66,257.96 L514.92,257.98 L515.17,258.00 L515.43,258.02 L515.69,258.03 L515.94,258.05 L518.19,258.16 L520.44,258.26 L522.69,258.35 L524.94,258.44 L527.20,258.51 L529.45,258.56 L531.70,258.60 L533.95,258.62 L536.20,258.65 L538.45,258.67 L540.70,258.70 L542.95,258.72 L545.20,258.74 L547.45,258.76 L549.70,258.77 L551.95,258.79 L554.20,258.80 L556.45,258.81 L558.70,258.83 L560.96,258.84 L563.21,258.84 L565.46,258.85 L567.71,258.86 L569.96,258.86 L572.21,258.87 L574.46,258.87 L576.71,258.87 L578.96,258.88 L581.21,258.88 L583.46,258.89 L585.71,258.89 L587.96,258.90 L590.21,258.90 L592.47,258.90 L594.72,258.91 L596.97,258.91 L599.22,258.92 L601.47,258.92 L603.72,258.92 L605.97,258.93 L608.22,258.93 L610.47,258.93 L612.72,258.94 L614.97,258.94 L617.22,258.95 L619.47,258.95 L621.72,258.95 L623.97,258.96 L626.23,258.96 L628.48,258.96 L630.73,258.97 L632.98,258.97 L635.23,258.97 L637.48,258.98 L639.73,258.98 L641.98,258.98 L644.23,258.99 L646.48,258.99 L648.73,258.99 L650.98,258.99 L653.23,259.00 L655.48,259.00 L657.73,259.00 L659.99,259.01 L662.24,259.01 L664.49,259.01 L666.74,259.01 L668.99,259.02 L671.24,259.02 L673.49,259.02 L675.74,259.02 L677.99,259.03 L680.24,259.03 L682.49,259.03 L684.74,259.04 L686.99,259.04 L689.24,259.04 L691.49,259.04 L693.75,259.04 L696.00,259.05 L698.25,259.05 L700.50,259.05 L702.75,259.05 L705.00,259.06 L707.25,259.06 L709.50,259.06 L711.75,259.06 L714.00,259.06 L716.25,259.07 L718.50,259.07 L720.75,259.07 L723.00,259.07 L725.26,259.07 L727.51,259.08 L729.76,259.08 L732.01,259.08 L734.26,259.08 L736.51,259.08 L738.76,259.08 L741.01,259.09 L743.26,259.09 L745.51,259.09 L747.76,259.09 L750.01,259.09 L752.26,259.09 L754.51,259.09 L756.76,259.10 L759.02,259.10 L761.27,259.10 L763.52,259.10 L765.77,259.10 L768.02,259.10 L770.27,259.10 L772.52,259.10 L774.77,259.11 L777.02,259.11 L779.27,259.11 L781.52,259.11 L783.77,259.11 L786.02,259.11 L788.27,259.11 L790.52,259.11 L792.78,259.11 L795.03,259.12 L797.28,259.12 L799.53,259.12 L801.78,259.12 L804.03,259.12 L806.28,259.12 L808.53,259.12 L810.78,259.12 L813.03,259.12 L815.28,259.12 L817.53,259.12 L819.78,259.12 L822.03,259.12 L824.29,259.12 L826.54,259.13 L828.79,259.13 L831.04,259.13 L833.29,259.13 L835.54,259.13 L837.79,259.13 L840.04,259.13 L842.29,259.13 L844.54,259.13 L846.79,259.13 L849.04,259.13 L851.29,259.13 L853.54,259.13 L855.79,259.13 L858.05,259.13 L860.30,259.13 L862.55,259.13 L864.80,259.13 L867.05,259.13 L869.30,259.13 L871.55,259.13 L873.80,259.13" stroke="#000000" stroke-dasharray="11.3 4.9"/>
<path clip-path="url(#clipB)" d="M493.10,303.00 L493.36,302.99 L493.61,302.98 L493.87,302.97 L494.13,302.96 L494.38,302.96 L494.64,302.95 L494.90,302.94 L495.15,302.93 L495.41,302.92 L495.67,302.91 L495.92,302.90 L496.18,302.89 L496.44,302.88 L496.69,302.87 L496.95,302.86 L497.21,302.85 L497.46,302.85 L497.72,302.84 L497.98,302.83 L498.23,302.82 L498.49,302.81 L498.75,302.80 L499.00,302.79 L499.26,302.78 L499.52,302.77 L499.77,302.76 L500.03,302.76 L500.29,302.75 L500.54,302.74 L500.80,302.73 L501.06,302.72 L501.31,302.71 L501.57,302.70 L501.83,302.69 L502.08,302.69 L502.34,302.68 L502.60,302.67 L502.85,302.66 L503.11,302.65 L503.37,302.65 L503.62,302.64 L503.88,302.63 L504.14,302.62 L504.39,302.62 L504.65,302.61 L504.91,302.60 L505.16,302.59 L505.42,302.59 L505.68,302.58 L505.93,302.57 L506.19,302.57 L506.45,302.56 L506.70,302.55 L506.96,302.55 L507.22,302.54 L507.47,302.53 L507.73,302.53 L507.99,302.52 L508.24,302.52 L508.50,302.51 L508.76,302.51 L509.01,302.50 L509.27,302.50 L509.53,302.49 L509.78,302.49 L510.04,302.48 L510.30,302.48 L510.55,302.48 L510.81,302.47 L511.07,302.47 L511.32,302.47 L511.58,302.46 L511.84,302.46 L512.09,302.46 L512.35,302.46 L512.61,302.45 L512.86,302.45 L513.12,302.45 L513.38,302.45 L513.63,302.44 L513.89,302.44 L514.15,302.44 L514.40,302.44 L514.66,302.44 L514.92,302.43 L515.17,302.43 L515.43,302.43 L515.69,302.43 L515.94,302.42 L518.19,302.41 L520.44,302.39 L522.69,302.37 L524.94,302.35 L527.20,302.34 L529.45,302.32 L531.70,302.31 L533.95,302.29 L536.20,302.28 L538.45,302.27 L540.70,302.26 L542.95,302.25 L545.20,302.24 L547.45,302.23 L549.70,302.22 L551.95,302.21 L554.20,302.21 L556.45,302.20 L558.70,302.20 L560.96,302.19 L563.21,302.19 L565.46,302.19 L567.71,302.19 L569.96,302.19 L572.21,302.19 L574.46,302.19 L576.71,302.19 L578.96,302.19 L581.21,302.20 L583.46,302.20 L585.71,302.20 L587.96,302.21 L590.21,302.21 L592.47,302.22 L594.72,302.22 L596.97,302.23 L599.22,302.23 L601.47,302.24 L603.72,302.25 L605.97,302.25 L608.22,302.26 L610.47,302.27 L612.72,302.28 L614.97,302.28 L617.22,302.29 L619.47,302.30 L621.72,302.31 L623.97,302.31 L626.23,302.32 L628.48,302.33 L630.73,302.34 L632.98,302.35 L635.23,302.35 L637.48,302.36 L639.73,302.37 L641.98,302.38 L644.23,302.38 L646.48,302.39 L648.73,302.40 L650.98,302.41 L653.23,302.41 L655.48,302.42 L657.73,302.42 L659.99,302.43 L662.24,302.43 L664.49,302.44 L666.74,302.44 L668.99,302.45 L671.24,302.45 L673.49,302.45 L675.74,302.45 L677.99,302.46 L680.24,302.46 L682.49,302.46 L684.74,302.46 L686.99,302.46 L689.24,302.46 L691.49,302.46 L693.75,302.46 L696.00,302.46 L698.25,302.46 L700.50,302.46 L702.75,302.46 L705.00,302.46 L707.25,302.46 L709.50,302.46 L711.75,302.46 L714.00,302.46 L716.25,302.46 L718.50,302.46 L720.75,302.46 L723.00,302.46 L725.26,302.46 L727.51,302.46 L729.76,302.46 L732.01,302.46 L734.26,302.46 L736.51,302.46 L738.76,302.46 L741.01,302.46 L743.26,302.46 L745.51,302.46 L747.76,302.46 L750.01,302.46 L752.26,302.46 L754.51,302.46 L756.76,302.46 L759.02,302.46 L761.27,302.46 L763.52,302.46 L765.77,302.46 L768.02,302.46 L770.27,302.46 L772.52,302.46 L774.77,302.46 L777.02,302.46 L779.27,302.46 L781.52,302.46 L783.77,302.46 L786.02,302.46 L788.27,302.46 L790.52,302.46 L792.78,302.46 L795.03,302.46 L797.28,302.46 L799.53,302.46 L801.78,302.46 L804.03,302.46 L806.28,302.46 L808.53,302.46 L810.78,302.46 L813.03,302.46 L815.28,302.46 L817.53,302.46 L819.78,302.46 L822.03,302.46 L824.29,302.46 L826.54,302.46 L828.79,302.46 L831.04,302.46 L833.29,302.46 L835.54,302.46 L837.79,302.46 L840.04,302.46 L842.29,302.46 L844.54,302.46 L846.79,302.46 L849.04,302.46 L851.29,302.46 L853.54,302.46 L855.79,302.46 L858.05,302.46 L860.30,302.46 L862.55,302.46 L864.80,302.46 L867.05,302.46 L869.30,302.46 L871.55,302.46 L873.80,302.46" stroke="#00ffff"/>
<path clip-path="url(#clipB)" d="M493.10,303.00 L493.36,302.18 L493.61,301.32 L493.87,300.42 L494.13,299.49 L494.38,298.52 L494.64,297.52 L494.90,296.45 L495.15,295.31 L495.41,294.13 L495.67,292.95 L495.92,291.78 L496.18,290.67 L496.44,289.47 L496.69,288.26 L496.95,287.20 L497.21,286.49 L497.46,286.04 L497.72,285.63 L497.98,285.25 L498.23,284.90 L498.49,284.58 L498.75,284.29 L499.00,284.03 L499.26,283.79 L499.52,283.58 L499.77,283.39 L500.03,283.22 L500.29,283.08 L500.54,282.95 L500.80,282.84 L501.06,282.74 L501.31,282.65 L501.57,282.56 L501.83,282.48 L502.08,282.39 L502.34,282.31 L502.60,282.24 L502.85,282.16 L503.11,282.10 L503.37,282.03 L503.62,281.97 L503.88,281.92 L504.14,281.87 L504.39,281.83 L504.65,281.79 L504.91,281.76 L505.16,281.73 L505.42,281.71 L505.68,281.70 L505.93,281.69 L506.19,281.69 L506.45,281.69 L506.70,281.70 L506.96,281.71 L507.22,281.72 L507.47,281.74 L507.73,281.76 L507.99,281.78 L508.24,281.80 L508.50,281.83 L508.76,281.86 L509.01,281.88 L509.27,281.91 L509.53,281.94 L509.78,281.97 L510.04,282.00 L510.30,282.03 L510.55,282.06 L510.81,282.09 L511.07,282.12 L511.32,282.14 L511.58,282.17 L511.84,282.20 L512.09,282.22 L512.35,282.25 L512.61,282.28 L512.86,282.31 L513.12,282.34 L513.38,282.37 L513.63,282.40 L513.89,282.43 L514.15,282.46 L514.40,282.50 L514.66,282.53 L514.92,282.56 L515.17,282.60 L515.43,282.63 L515.69,282.66 L515.94,282.70 L518.19,283.00 L520.44,283.30 L522.69,283.58 L524.94,283.86 L527.20,284.14 L529.45,284.42 L531.70,284.70 L533.95,284.95 L536.20,285.18 L538.45,285.37 L540.70,285.55 L542.95,285.72 L545.20,285.89 L547.45,286.05 L549.70,286.19 L551.95,286.31 L554.20,286.40 L556.45,286.46 L558.70,286.49 L560.96,286.50 L563.21,286.52 L565.46,286.53 L567.71,286.54 L569.96,286.56 L572.21,286.57 L574.46,286.58 L576.71,286.59 L578.96,286.60 L581.21,286.61 L583.46,286.62 L585.71,286.62 L587.96,286.63 L590.21,286.64 L592.47,286.64 L594.72,286.65 L596.97,286.66 L599.22,286.66 L601.47,286.67 L603.72,286.67 L605.97,286.68 L608.22,286.68 L610.47,286.68 L612.72,286.69 L614.97,286.69 L617.22,286.70 L619.47,286.70 L621.72,286.70 L623.97,286.71 L626.23,286.71 L628.48,286.71 L630.73,286.72 L632.98,286.72 L635.23,286.73 L637.48,286.73 L639.73,286.74 L641.98,286.74 L644.23,286.75 L646.48,286.76 L648.73,286.76 L650.98,286.77 L653.23,286.77 L655.48,286.78 L657.73,286.79 L659.99,286.79 L662.24,286.80 L664.49,286.80 L666.74,286.81 L668.99,286.82 L671.24,286.82 L673.49,286.83 L675.74,286.83 L677.99,286.84 L680.24,286.85 L682.49,286.85 L684.74,286.86 L686.99,286.86 L689.24,286.87 L691.49,286.88 L693.75,286.88 L696.00,286.89 L698.25,286.89 L700.50,286.90 L702.75,286.91 L705.00,286.91 L707.25,286.92 L709.50,286.92 L711.75,286.93 L714.00,286.93 L716.25,286.94 L718.50,286.95 L720.75,286.95 L723.00,286.96 L725.26,286.96 L727.51,286.97 L729.76,286.97 L732.01,286.98 L734.26,286.99 L736.51,286.99 L738.76,287.00 L741.01,287.00 L743.26,287.01 L745.51,287.01 L747.76,287.02 L750.01,287.02 L752.26,287.03 L754.51,287.04 L756.76,287.04 L759.02,287.05 L761.27,287.05 L763.52,287.06 L765.77,287.06 L768.02,287.07 L770.27,287.07 L772.52,287.08 L774.77,287.08 L777.02,287.09 L779.27,287.09 L781.52,287.10 L783.77,287.11 L786.02,287.11 L788.27,287.12 L790.52,287.12 L792.78,287.13 L795.03,287.13 L797.28,287.14 L799.53,287.14 L801.78,287.15 L804.03,287.15 L806.28,287.16 L808.53,287.16 L810.78,287.17 L813.03,287.17 L815.28,287.18 L817.53,287.18 L819.78,287.19 L822.03,287.19 L824.29,287.20 L826.54,287.20 L828.79,287.20 L831.04,287.21 L833.29,287.21 L835.54,287.22 L837.79,287.22 L840.04,287.23 L842.29,287.23 L844.54,287.24 L846.79,287.24 L849.04,287.25 L851.29,287.25 L853.54,287.25 L855.79,287.26 L858.05,287.26 L860.30,287.27 L862.55,287.27 L864.80,287.28 L867.05,287.28 L869.30,287.29 L871.55,287.29 L873.80,287.29" stroke="#00ffff" stroke-dasharray="11.3 4.9"/>
<path clip-path="url(#clipB)" d="M493.10,303.00 L493.36,302.93 L493.61,302.86 L493.87,302.79 L494.13,302.71 L494.38,302.64 L494.64,302.57 L494.90,302.50 L495.15,302.44 L495.41,302.37 L495.67,302.30 L495.92,302.24 L496.18,302.17 L496.44,302.11 L496.69,302.05 L496.95,301.99 L497.21,301.93 L497.46,301.87 L497.72,301.82 L497.98,301.77 L498.23,301.72 L498.49,301.67 L498.75,301.63 L499.00,301.58 L499.26,301.54 L499.52,301.51 L499.77,301.47 L500.03,301.44 L500.29,301.41 L500.54,301.39 L500.80,301.37 L501.06,301.35 L501.31,301.33 L501.57,301.31 L501.83,301.29 L502.08,301.27 L502.34,301.25 L502.60,301.23 L502.85,301.21 L503.11,301.20 L503.37,301.18 L503.62,301.16 L503.88,301.14 L504.14,301.13 L504.39,301.11 L504.65,301.10 L504.91,301.08 L505.16,301.07 L505.42,301.05 L505.68,301.04 L505.93,301.03 L506.19,301.01 L506.45,301.00 L506.70,300.99 L506.96,300.98 L507.22,300.96 L507.47,300.95 L507.73,300.94 L507.99,300.93 L508.24,300.92 L508.50,300.91 L508.76,300.90 L509.01,300.90 L509.27,300.89 L509.53,300.88 L509.78,300.87 L510.04,300.87 L510.30,300.86 L510.55,300.86 L510.81,300.85 L511.07,300.85 L511.32,300.84 L511.58,300.84 L511.84,300.84 L512.09,300.83 L512.35,300.83 L512.61,300.83 L512.86,300.83 L513.12,300.83 L513.38,300.82 L513.63,300.82 L513.89,300.82 L514.15,300.82 L514.40,300.82 L514.66,300.81 L514.92,300.81 L515.17,300.81 L515.43,300.81 L515.69,300.81 L515.94,300.80 L518.19,300.79 L520.44,300.77 L522.69,300.76 L524.94,300.75 L527.20,300.74 L529.45,300.73 L531.70,300.72 L533.95,300.71 L536.20,300.70 L538.45,300.69 L540.70,300.69 L542.95,300.68 L545.20,300.68 L547.45,300.67 L549.70,300.67 L551.95,300.66 L554.20,300.66 L556.45,300.65 L558.70,300.65 L560.96,300.65 L563.21,300.64 L565.46,300.64 L567.71,300.63 L569.96,300.63 L572.21,300.62 L574.46,300.61 L576.71,300.61 L578.96,300.60 L581.21,300.59 L583.46,300.58 L585.71,300.57 L587.96,300.56 L590.21,300.55 L592.47,300.54 L594.72,300.53 L596.97,300.51 L599.22,300.50 L601.47,300.49 L603.72,300.47 L605.97,300.45 L608.22,300.44 L610.47,300.42 L612.72,300.40 L614.97,300.38 L617.22,300.36 L619.47,300.35 L621.72,300.33 L623.97,300.31 L626.23,300.29 L628.48,300.27 L630.73,300.25 L632.98,300.22 L635.23,300.20 L637.48,300.18 L639.73,300.16 L641.98,300.14 L644.23,300.12 L646.48,300.09 L648.73,300.07 L650.98,300.05 L653.23,300.03 L655.48,300.01 L657.73,299.99 L659.99,299.96 L662.24,299.94 L664.49,299.92 L666.74,299.90 L668.99,299.88 L671.24,299.86 L673.49,299.84 L675.74,299.82 L677.99,299.80 L680.24,299.78 L682.49,299.76 L684.74,299.74 L686.99,299.72 L689.24,299.70 L691.49,299.68 L693.75,299.66 L696.00,299.64 L698.25,299.62 L700.50,299.60 L702.75,299.58 L705.00,299.57 L707.25,299.55 L709.50,299.53 L711.75,299.51 L714.00,299.49 L716.25,299.47 L718.50,299.45 L720.75,299.43 L723.00,299.41 L725.26,299.39 L727.51,299.37 L729.76,299.35 L732.01,299.33 L734.26,299.31 L736.51,299.29 L738.76,299.27 L741.01,299.25 L743.26,299.23 L745.51,299.21 L747.76,299.19 L750.01,299.17 L752.26,299.15 L754.51,299.13 L756.76,299.11 L759.02,299.09 L761.27,299.07 L763.52,299.05 L765.77,299.03 L768.02,299.01 L770.27,299.00 L772.52,298.98 L774.77,298.96 L777.02,298.94 L779.27,298.92 L781.52,298.91 L783.77,298.89 L786.02,298.87 L788.27,298.86 L790.52,298.84 L792.78,298.82 L795.03,298.81 L797.28,298.79 L799.53,298.78 L801.78,298.76 L804.03,298.75 L806.28,298.73 L808.53,298.72 L810.78,298.70 L813.03,298.69 L815.28,298.68 L817.53,298.66 L819.78,298.65 L822.03,298.64 L824.29,298.62 L826.54,298.61 L828.79,298.60 L831.04,298.59 L833.29,298.58 L835.54,298.56 L837.79,298.55 L840.04,298.54 L842.29,298.53 L844.54,298.52 L846.79,298.51 L849.04,298.50 L851.29,298.49 L853.54,298.48 L855.79,298.47 L858.05,298.46 L860.30,298.45 L862.55,298.44 L864.80,298.43 L867.05,298.42 L869.30,298.41 L871.55,298.40 L873.80,298.40" stroke="#ffc0cb"/>
<path clip-path="url(#clipB)" d="M493.10,303.00 L493.36,300.48 L493.61,298.06 L493.87,295.72 L494.13,293.49 L494.38,291.37 L494.64,289.37 L494.90,287.49 L495.15,285.72 L495.41,283.94 L495.67,282.20 L495.92,280.53 L496.18,279.01 L496.44,277.68 L496.69,276.59 L496.95,275.81 L497.21,275.15 L497.46,274.52 L497.72,273.92 L497.98,273.36 L498.23,272.85 L498.49,272.39 L498.75,271.98 L499.00,271.64 L499.26,271.37 L499.52,271.18 L499.77,271.07 L500.03,271.05 L500.29,271.06 L500.54,271.09 L500.80,271.13 L501.06,271.18 L501.31,271.24 L501.57,271.31 L501.83,271.39 L502.08,271.48 L502.34,271.57 L502.60,271.67 L502.85,271.77 L503.11,271.87 L503.37,271.97 L503.62,272.07 L503.88,272.17 L504.14,272.27 L504.39,272.36 L504.65,272.44 L504.91,272.53 L505.16,272.62 L505.42,272.71 L505.68,272.81 L505.93,272.91 L506.19,273.01 L506.45,273.11 L506.70,273.22 L506.96,273.32 L507.22,273.43 L507.47,273.54 L507.73,273.65 L507.99,273.76 L508.24,273.88 L508.50,273.99 L508.76,274.10 L509.01,274.22 L509.27,274.33 L509.53,274.45 L509.78,274.56 L510.04,274.67 L510.30,274.79 L510.55,274.90 L510.81,275.01 L511.07,275.12 L511.32,275.23 L511.58,275.34 L511.84,275.44 L512.09,275.54 L512.35,275.64 L512.61,275.74 L512.86,275.84 L513.12,275.93 L513.38,276.02 L513.63,276.11 L513.89,276.20 L514.15,276.28 L514.40,276.35 L514.66,276.43 L514.92,276.50 L515.17,276.56 L515.43,276.62 L515.69,276.68 L515.94,276.73 L518.19,277.14 L520.44,277.51 L522.69,277.84 L524.94,278.11 L527.20,278.34 L529.45,278.52 L531.70,278.65 L533.95,278.76 L536.20,278.87 L538.45,278.96 L540.70,279.05 L542.95,279.13 L545.20,279.21 L547.45,279.28 L549.70,279.34 L551.95,279.40 L554.20,279.45 L556.45,279.50 L558.70,279.55 L560.96,279.59 L563.21,279.63 L565.46,279.66 L567.71,279.69 L569.96,279.72 L572.21,279.75 L574.46,279.77 L576.71,279.80 L578.96,279.82 L581.21,279.84 L583.46,279.87 L585.71,279.89 L587.96,279.91 L590.21,279.93 L592.47,279.95 L594.72,279.97 L596.97,279.99 L599.22,280.00 L601.47,280.02 L603.72,280.04 L605.97,280.05 L608.22,280.07 L610.47,280.08 L612.72,280.10 L614.97,280.11 L617.22,280.12 L619.47,280.13 L621.72,280.15 L623.97,280.16 L626.23,280.17 L628.48,280.18 L630.73,280.19 L632.98,280.20 L635.23,280.21 L637.48,280.22 L639.73,280.23 L641.98,280.24 L644.23,280.25 L646.48,280.26 L648.73,280.27 L650.98,280.27 L653.23,280.28 L655.48,280.29 L657.73,280.30 L659.99,280.31 L662.24,280.32 L664.49,280.33 L666.74,280.33 L668.99,280.34 L671.24,280.35 L673.49,280.36 L675.74,280.37 L677.99,280.38 L680.24,280.38 L682.49,280.39 L684.74,280.40 L686.99,280.41 L689.24,280.42 L691.49,280.42 L693.75,280.43 L696.00,280.44 L698.25,280.45 L700.50,280.46 L702.75,280.46 L705.00,280.47 L707.25,280.48 L709.50,280.49 L711.75,280.49 L714.00,280.50 L716.25,280.51 L718.50,280.51 L720.75,280.52 L723.00,280.53 L725.26,280.54 L727.51,280.54 L729.76,280.55 L732.01,280.56 L734.26,280.56 L736.51,280.57 L738.76,280.58 L741.01,280.58 L743.26,280.59 L745.51,280.60 L747.76,280.60 L750.01,280.61 L752.26,280.61 L754.51,280.62 L756.76,280.63 L759.02,280.63 L761.27,280.64 L763.52,280.64 L765.77,280.65 L768.02,280.66 L770.27,280.66 L772.52,280.67 L774.77,280.67 L777.02,280.68 L779.27,280.68 L781.52,280.69 L783.77,280.69 L786.02,280.70 L788.27,280.70 L790.52,280.71 L792.78,280.71 L795.03,280.71 L797.28,280.72 L799.53,280.72 L801.78,280.73 L804.03,280.73 L806.28,280.73 L808.53,280.74 L810.78,280.74 L813.03,280.75 L815.28,280.75 L817.53,280.75 L819.78,280.76 L822.03,280.76 L824.29,280.76 L826.54,280.76 L828.79,280.77 L831.04,280.77 L833.29,280.77 L835.54,280.77 L837.79,280.78 L840.04,280.78 L842.29,280.78 L844.54,280.78 L846.79,280.78 L849.04,280.79 L851.29,280.79 L853.54,280.79 L855.79,280.79 L858.05,280.79 L860.30,280.79 L862.55,280.79 L864.80,280.79 L867.05,280.79 L869.30,280.79 L871.55,280.79 L873.80,280.79" stroke="#ffc0cb" stroke-dasharray="11.3 4.9"/>
<path clip-path="url(#clipB)" d="M493.10,303.00 L493.36,302.98 L493.61,302.96 L493.87,302.94 L494.13,302.91 L494.38,302.89 L494.64,302.87 L494.90,302.85 L495.15,302.83 L495.41,302.81 L495.67,302.79 L495.92,302.78 L496.18,302.76 L496.44,302.75 L496.69,302.74 L496.95,302.73 L497.21,302.72 L497.46,302.71 L497.72,302.70 L497.98,302.70 L498.23,302.69 L498.49,302.68 L498.75,302.67 L499.00,302.67 L499.26,302.66 L499.52,302.65 L499.77,302.65 L500.03,302.64 L500.29,302.63 L500.54,302.63 L500.80,302.62 L501.06,302.62 L501.31,302.61 L501.57,302.60 L501.83,302.60 L502.08,302.59 L502.34,302.59 L502.60,302.58 L502.85,302.58 L503.11,302.57 L503.37,302.57 L503.62,302.56 L503.88,302.56 L504.14,302.55 L504.39,302.55 L504.65,302.55 L504.91,302.54 L505.16,302.54 L505.42,302.53 L505.68,302.53 L505.93,302.53 L506.19,302.52 L506.45,302.52 L506.70,302.52 L506.96,302.51 L507.22,302.51 L507.47,302.51 L507.73,302.50 L507.99,302.50 L508.24,302.50 L508.50,302.49 L508.76,302.49 L509.01,302.49 L509.27,302.49 L509.53,302.48 L509.78,302.48 L510.04,302.48 L510.30,302.47 L510.55,302.47 L510.81,302.47 L511.07,302.47 L511.32,302.47 L511.58,302.46 L511.84,302.46 L512.09,302.46 L512.35,302.46 L512.61,302.45 L512.86,302.45 L513.12,302.45 L513.38,302.45 L513.63,302.45 L513.89,302.44 L514.15,302.44 L514.40,302.44 L514.66,302.44 L514.92,302.44 L515.17,302.43 L515.43,302.43 L515.69,302.43 L515.94,302.43 L518.19,302.41 L520.44,302.40 L522.69,302.38 L524.94,302.37 L527.20,302.36 L529.45,302.35 L531.70,302.34 L533.95,302.33 L536.20,302.32 L538.45,302.31 L540.70,302.30 L542.95,302.29 L545.20,302.29 L547.45,302.28 L549.70,302.27 L551.95,302.26 L554.20,302.25 L556.45,302.25 L558.70,302.24 L560.96,302.23 L563.21,302.22 L565.46,302.21 L567.71,302.20 L569.96,302.18 L572.21,302.17 L574.46,302.16 L576.71,302.14 L578.96,302.13 L581.21,302.12 L583.46,302.10 L585.71,302.09 L587.96,302.07 L590.21,302.06 L592.47,302.05 L594.72,302.03 L596.97,302.01 L599.22,302.00 L601.47,301.98 L603.72,301.97 L605.97,301.95 L608.22,301.94 L610.47,301.92 L612.72,301.90 L614.97,301.89 L617.22,301.87 L619.47,301.85 L621.72,301.84 L623.97,301.82 L626.23,301.80 L628.48,301.79 L630.73,301.77 L632.98,301.75 L635.23,301.74 L637.48,301.72 L639.73,301.70 L641.98,301.69 L644.23,301.67 L646.48,301.65 L648.73,301.63 L650.98,301.62 L653.23,301.60 L655.48,301.58 L657.73,301.57 L659.99,301.55 L662.24,301.53 L664.49,301.51 L666.74,301.50 L668.99,301.48 L671.24,301.46 L673.49,301.45 L675.74,301.43 L677.99,301.41 L680.24,301.40 L682.49,301.38 L684.74,301.37 L686.99,301.35 L689.24,301.33 L691.49,301.32 L693.75,301.30 L696.00,301.29 L698.25,301.27 L700.50,301.25 L702.75,301.24 L705.00,301.22 L707.25,301.21 L709.50,301.19 L711.75,301.17 L714.00,301.16 L716.25,301.14 L718.50,301.13 L720.75,301.11 L723.00,301.09 L725.26,301.08 L727.51,301.06 L729.76,301.05 L732.01,301.03 L734.26,301.01 L736.51,301.00 L738.76,300.98 L741.01,300.97 L743.26,300.95 L745.51,300.93 L747.76,300.92 L750.01,300.90 L752.26,300.89 L754.51,300.87 L756.76,300.85 L759.02,300.84 L761.27,300.82 L763.52,300.81 L765.77,300.79 L768.02,300.77 L770.27,300.76 L772.52,300.74 L774.77,300.73 L777.02,300.71 L779.27,300.69 L781.52,300.68 L783.77,300.66 L786.02,300.65 L788.27,300.63 L790.52,300.61 L792.78,300.60 L795.03,300.58 L797.28,300.57 L799.53,300.55 L801.78,300.53 L804.03,300.52 L806.28,300.50 L808.53,300.49 L810.78,300.47 L813.03,300.45 L815.28,300.44 L817.53,300.42 L819.78,300.41 L822.03,300.39 L824.29,300.37 L826.54,300.36 L828.79,300.34 L831.04,300.33 L833.29,300.31 L835.54,300.29 L837.79,300.28 L840.04,300.26 L842.29,300.25 L844.54,300.23 L846.79,300.21 L849.04,300.20 L851.29,300.18 L853.54,300.17 L855.79,300.15 L858.05,300.13 L860.30,300.12 L862.55,300.10 L864.80,300.09 L867.05,300.07 L869.30,300.05 L871.55,300.04 L873.80,300.02" stroke="#ffa500"/>
<path clip-path="url(#clipB)" d="M493.10,303.00 L493.36,302.59 L493.61,301.57 L493.87,300.25 L494.13,298.22 L494.38,295.30 L494.64,291.93 L494.90,287.31 L495.15,282.08 L495.41,278.37 L495.67,276.05 L495.92,274.11 L496.18,272.55 L496.44,271.37 L496.69,270.53 L496.95,269.88 L497.21,269.43 L497.46,269.07 L497.72,268.74 L497.98,268.43 L498.23,268.14 L498.49,267.87 L498.75,267.62 L499.00,267.40 L499.26,267.21 L499.52,267.04 L499.77,266.90 L500.03,266.80 L500.29,266.72 L500.54,266.67 L500.80,266.62 L501.06,266.57 L501.31,266.53 L501.57,266.48 L501.83,266.44 L502.08,266.41 L502.34,266.37 L502.60,266.34 L502.85,266.31 L503.11,266.28 L503.37,266.26 L503.62,266.24 L503.88,266.22 L504.14,266.20 L504.39,266.19 L504.65,266.18 L504.91,266.17 L505.16,266.17 L505.42,266.17 L505.68,266.18 L505.93,266.20 L506.19,266.22 L506.45,266.26 L506.70,266.30 L506.96,266.34 L507.22,266.39 L507.47,266.45 L507.73,266.51 L507.99,266.57 L508.24,266.64 L508.50,266.71 L508.76,266.79 L509.01,266.86 L509.27,266.94 L509.53,267.01 L509.78,267.09 L510.04,267.16 L510.30,267.24 L510.55,267.31 L510.81,267.38 L511.07,267.45 L511.32,267.51 L511.58,267.57 L511.84,267.64 L512.09,267.70 L512.35,267.77 L512.61,267.84 L512.86,267.91 L513.12,267.98 L513.38,268.05 L513.63,268.12 L513.89,268.19 L514.15,268.26 L514.40,268.34 L514.66,268.41 L514.92,268.49 L515.17,268.56 L515.43,268.64 L515.69,268.71 L515.94,268.79 L518.19,269.43 L520.44,269.99 L522.69,270.42 L524.94,270.79 L527.20,271.12 L529.45,271.43 L531.70,271.71 L533.95,271.98 L536.20,272.23 L538.45,272.49 L540.70,272.76 L542.95,273.03 L545.20,273.30 L547.45,273.54 L549.70,273.75 L551.95,273.92 L554.20,274.03 L556.45,274.12 L558.70,274.20 L560.96,274.27 L563.21,274.35 L565.46,274.42 L567.71,274.48 L569.96,274.54 L572.21,274.60 L574.46,274.66 L576.71,274.71 L578.96,274.76 L581.21,274.81 L583.46,274.85 L585.71,274.89 L587.96,274.93 L590.21,274.96 L592.47,274.99 L594.72,275.02 L596.97,275.04 L599.22,275.06 L601.47,275.08 L603.72,275.09 L605.97,275.10 L608.22,275.11 L610.47,275.12 L612.72,275.13 L614.97,275.13 L617.22,275.14 L619.47,275.15 L621.72,275.16 L623.97,275.16 L626.23,275.17 L628.48,275.18 L630.73,275.18 L632.98,275.19 L635.23,275.20 L637.48,275.21 L639.73,275.21 L641.98,275.22 L644.23,275.22 L646.48,275.23 L648.73,275.24 L650.98,275.24 L653.23,275.25 L655.48,275.26 L657.73,275.26 L659.99,275.27 L662.24,275.27 L664.49,275.28 L666.74,275.28 L668.99,275.29 L671.24,275.30 L673.49,275.30 L675.74,275.31 L677.99,275.31 L680.24,275.32 L682.49,275.32 L684.74,275.33 L686.99,275.33 L689.24,275.34 L691.49,275.34 L693.75,275.35 L696.00,275.35 L698.25,275.36 L700.50,275.36 L702.75,275.36 L705.00,275.37 L707.25,275.37 L709.50,275.38 L711.75,275.38 L714.00,275.39 L716.25,275.39 L718.50,275.39 L720.75,275.40 L723.00,275.40 L725.26,275.40 L727.51,275.41 L729.76,275.41 L732.01,275.41 L734.26,275.42 L736.51,275.42 L738.76,275.42 L741.01,275.43 L743.26,275.43 L745.51,275.43 L747.76,275.44 L750.01,275.44 L752.26,275.44 L754.51,275.45 L756.76,275.45 L759.02,275.45 L761.27,275.45 L763.52,275.46 L765.77,275.46 L768.02,275.46 L770.27,275.46 L772.52,275.47 L774.77,275.47 L777.02,275.47 L779.27,275.47 L781.52,275.47 L783.77,275.48 L786.02,275.48 L788.27,275.48 L790.52,275.48 L792.78,275.48 L795.03,275.49 L797.28,275.49 L799.53,275.49 L801.78,275.49 L804.03,275.49 L806.28,275.49 L808.53,275.49 L810.78,275.50 L813.03,275.50 L815.28,275.50 L817.53,275.50 L819.78,275.50 L822.03,275.50 L824.29,275.50 L826.54,275.50 L828.79,275.51 L831.04,275.51 L833.29,275.51 L835.54,275.51 L837.79,275.51 L840.04,275.51 L842.29,275.51 L844.54,275.51 L846.79,275.51 L849.04,275.51 L851.29,275.51 L853.54,275.51 L855.79,275.51 L858.05,275.51 L860.30,275.51 L862.55,275.51 L864.80,275.51 L867.05,275.51 L869.30,275.51 L871.55,275.51 L873.80,275.51" stroke="#ffa500" stroke-dasharray="11.3 4.9"/>
<path clip-path="url(#clipB)" d="M493.10,303.00 L493.36,302.74 L493.61,302.47 L493.87,302.22 L494.13,301.98 L494.38,301.76 L494.64,301.57 L494.90,301.42 L495.15,301.31 L495.41,301.22 L495.67,301.12 L495.92,301.03 L496.18,300.95 L496.44,300.87 L496.69,300.80 L496.95,300.73 L497.21,300.66 L497.46,300.60 L497.72,300.54 L497.98,300.48 L498.23,300.43 L498.49,300.38 L498.75,300.33 L499.00,300.29 L499.26,300.24 L499.52,300.20 L499.77,300.16 L500.03,300.12 L500.29,300.08 L500.54,300.05 L500.80,300.01 L501.06,299.97 L501.31,299.94 L501.57,299.90 L501.83,299.87 L502.08,299.84 L502.34,299.81 L502.60,299.78 L502.85,299.75 L503.11,299.72 L503.37,299.69 L503.62,299.66 L503.88,299.63 L504.14,299.61 L504.39,299.58 L504.65,299.56 L504.91,299.53 L505.16,299.51 L505.42,299.48 L505.68,299.46 L505.93,299.44 L506.19,299.41 L506.45,299.39 L506.70,299.37 L506.96,299.35 L507.22,299.33 L507.47,299.31 L507.73,299.29 L507.99,299.26 L508.24,299.24 L508.50,299.22 L508.76,299.20 L509.01,299.18 L509.27,299.16 L509.53,299.14 L509.78,299.12 L510.04,299.10 L510.30,299.08 L510.55,299.06 L510.81,299.04 L511.07,299.02 L511.32,299.00 L511.58,298.98 L511.84,298.96 L512.09,298.94 L512.35,298.92 L512.61,298.90 L512.86,298.88 L513.12,298.86 L513.38,298.84 L513.63,298.81 L513.89,298.79 L514.15,298.77 L514.40,298.75 L514.66,298.73 L514.92,298.71 L515.17,298.69 L515.43,298.67 L515.69,298.64 L515.94,298.62 L518.19,298.44 L520.44,298.26 L522.69,298.09 L524.94,297.93 L527.20,297.79 L529.45,297.67 L531.70,297.56 L533.95,297.47 L536.20,297.38 L538.45,297.30 L540.70,297.22 L542.95,297.15 L545.20,297.09 L547.45,297.02 L549.70,296.96 L551.95,296.91 L554.20,296.85 L556.45,296.80 L558.70,296.75 L560.96,296.70 L563.21,296.66 L565.46,296.61 L567.71,296.57 L569.96,296.52 L572.21,296.48 L574.46,296.44 L576.71,296.40 L578.96,296.37 L581.21,296.33 L583.46,296.29 L585.71,296.26 L587.96,296.22 L590.21,296.19 L592.47,296.16 L594.72,296.12 L596.97,296.09 L599.22,296.06 L601.47,296.03 L603.72,296.00 L605.97,295.98 L608.22,295.95 L610.47,295.92 L612.72,295.89 L614.97,295.87 L617.22,295.84 L619.47,295.81 L621.72,295.79 L623.97,295.76 L626.23,295.74 L628.48,295.71 L630.73,295.69 L632.98,295.66 L635.23,295.64 L637.48,295.62 L639.73,295.59 L641.98,295.57 L644.23,295.55 L646.48,295.53 L648.73,295.50 L650.98,295.48 L653.23,295.46 L655.48,295.44 L657.73,295.42 L659.99,295.40 L662.24,295.38 L664.49,295.36 L666.74,295.34 L668.99,295.32 L671.24,295.30 L673.49,295.28 L675.74,295.26 L677.99,295.24 L680.24,295.22 L682.49,295.20 L684.74,295.18 L686.99,295.16 L689.24,295.14 L691.49,295.12 L693.75,295.10 L696.00,295.08 L698.25,295.07 L700.50,295.05 L702.75,295.03 L705.00,295.01 L707.25,294.99 L709.50,294.97 L711.75,294.96 L714.00,294.94 L716.25,294.92 L718.50,294.90 L720.75,294.88 L723.00,294.86 L725.26,294.85 L727.51,294.83 L729.76,294.81 L732.01,294.79 L734.26,294.77 L736.51,294.75 L738.76,294.74 L741.01,294.72 L743.26,294.70 L745.51,294.68 L747.76,294.66 L750.01,294.65 L752.26,294.63 L754.51,294.61 L756.76,294.59 L759.02,294.58 L761.27,294.56 L763.52,294.54 L765.77,294.53 L768.02,294.51 L770.27,294.49 L772.52,294.47 L774.77,294.46 L777.02,294.44 L779.27,294.42 L781.52,294.41 L783.77,294.39 L786.02,294.37 L788.27,294.36 L790.52,294.34 L792.78,294.32 L795.03,294.31 L797.28,294.29 L799.53,294.27 L801.78,294.26 L804.03,294.24 L806.28,294.23 L808.53,294.21 L810.78,294.20 L813.03,294.18 L815.28,294.16 L817.53,294.15 L819.78,294.13 L822.03,294.12 L824.29,294.10 L826.54,294.09 L828.79,294.07 L831.04,294.06 L833.29,294.04 L835.54,294.03 L837.79,294.01 L840.04,294.00 L842.29,293.98 L844.54,293.97 L846.79,293.96 L849.04,293.94 L851.29,293.93 L853.54,293.91 L855.79,293.90 L858.05,293.89 L860.30,293.87 L862.55,293.86 L864.80,293.85 L867.05,293.83 L869.30,293.82 L871.55,293.81 L873.80,293.79" stroke="#add8e6"/>
<path clip-path="url(#clipB)" d="M493.10,303.00 L493.36,302.10 L493.61,301.25 L493.87,300.44 L494.13,299.68 L494.38,298.98 L494.64,298.35 L494.90,297.79 L495.15,297.30 L495.41,296.83 L495.67,296.38 L495.92,295.97 L496.18,295.60 L496.44,295.29 L496.69,295.03 L496.95,294.85 L497.21,294.70 L497.46,294.55 L497.72,294.42 L497.98,294.29 L498.23,294.17 L498.49,294.06 L498.75,293.96 L499.00,293.87 L499.26,293.78 L499.52,293.71 L499.77,293.65 L500.03,293.60 L500.29,293.56 L500.54,293.53 L500.80,293.52 L501.06,293.50 L501.31,293.49 L501.57,293.48 L501.83,293.47 L502.08,293.46 L502.34,293.44 L502.60,293.43 L502.85,293.42 L503.11,293.41 L503.37,293.40 L503.62,293.39 L503.88,293.39 L504.14,293.38 L504.39,293.37 L504.65,293.36 L504.91,293.35 L505.16,293.34 L505.42,293.34 L505.68,293.33 L505.93,293.32 L506.19,293.32 L506.45,293.31 L506.70,293.31 L506.96,293.30 L507.22,293.30 L507.47,293.29 L507.73,293.29 L507.99,293.28 L508.24,293.28 L508.50,293.27 L508.76,293.27 L509.01,293.27 L509.27,293.27 L509.53,293.26 L509.78,293.26 L510.04,293.26 L510.30,293.26 L510.55,293.26 L510.81,293.25 L511.07,293.25 L511.32,293.25 L511.58,293.25 L511.84,293.25 L512.09,293.25 L512.35,293.25 L512.61,293.25 L512.86,293.25 L513.12,293.25 L513.38,293.25 L513.63,293.25 L513.89,293.25 L514.15,293.25 L514.40,293.25 L514.66,293.25 L514.92,293.25 L515.17,293.25 L515.43,293.25 L515.69,293.25 L515.94,293.25 L518.19,293.25 L520.44,293.25 L522.69,293.25 L524.94,293.25 L527.20,293.25 L529.45,293.25 L531.70,293.25 L533.95,293.25 L536.20,293.25 L538.45,293.25 L540.70,293.25 L542.95,293.25 L545.20,293.25 L547.45,293.25 L549.70,293.25 L551.95,293.25 L554.20,293.25 L556.45,293.25 L558.70,293.25 L560.96,293.25 L563.21,293.25 L565.46,293.25 L567.71,293.25 L569.96,293.25 L572.21,293.25 L574.46,293.25 L576.71,293.25 L578.96,293.25 L581.21,293.25 L583.46,293.25 L585.71,293.25 L587.96,293.25 L590.21,293.25 L592.47,293.25 L594.72,293.25 L596.97,293.25 L599.22,293.25 L601.47,293.25 L603.72,293.25 L605.97,293.25 L608.22,293.25 L610.47,293.25 L612.72,293.24 L614.97,293.24 L617.22,293.24 L619.47,293.24 L621.72,293.24 L623.97,293.24 L626.23,293.24 L628.48,293.24 L630.73,293.24 L632.98,293.24 L635.23,293.24 L637.48,293.24 L639.73,293.23 L641.98,293.23 L644.23,293.23 L646.48,293.23 L648.73,293.23 L650.98,293.23 L653.23,293.23 L655.48,293.23 L657.73,293.23 L659.99,293.22 L662.24,293.22 L664.49,293.22 L666.74,293.22 L668.99,293.22 L671.24,293.22 L673.49,293.22 L675.74,293.21 L677.99,293.21 L680.24,293.21 L682.49,293.21 L684.74,293.21 L686.99,293.21 L689.24,293.21 L691.49,293.20 L693.75,293.20 L696.00,293.20 L698.25,293.20 L700.50,293.20 L702.75,293.19 L705.00,293.19 L707.25,293.19 L709.50,293.19 L711.75,293.19 L714.00,293.18 L716.25,293.18 L718.50,293.18 L720.75,293.18 L723.00,293.18 L725.26,293.17 L727.51,293.17 L729.76,293.17 L732.01,293.17 L734.26,293.17 L736.51,293.16 L738.76,293.16 L741.01,293.16 L743.26,293.16 L745.51,293.15 L747.76,293.15 L750.01,293.15 L752.26,293.15 L754.51,293.14 L756.76,293.14 L759.02,293.14 L761.27,293.14 L763.52,293.13 L765.77,293.13 L768.02,293.13 L770.27,293.13 L772.52,293.12 L774.77,293.12 L777.02,293.12 L779.27,293.12 L781.52,293.11 L783.77,293.11 L786.02,293.11 L788.27,293.10 L790.52,293.10 L792.78,293.10 L795.03,293.10 L797.28,293.09 L799.53,293.09 L801.78,293.09 L804.03,293.08 L806.28,293.08 L808.53,293.08 L810.78,293.08 L813.03,293.07 L815.28,293.07 L817.53,293.07 L819.78,293.06 L822.03,293.06 L824.29,293.06 L826.54,293.05 L828.79,293.05 L831.04,293.05 L833.29,293.04 L835.54,293.04 L837.79,293.04 L840.04,293.03 L842.29,293.03 L844.54,293.03 L846.79,293.02 L849.04,293.02 L851.29,293.02 L853.54,293.01 L855.79,293.01 L858.05,293.01 L860.30,293.00 L862.55,293.00 L864.80,292.99 L867.05,292.99 L869.30,292.99 L871.55,292.98 L873.80,292.98" stroke="#add8e6" stroke-dasharray="11.3 4.9"/>
</g>
<rect x="74.30" y="24.30" width="380.70" height="283.30" fill="none" stroke="#000" stroke-width="1.8"/>
<rect x="493.10" y="24.30" width="380.70" height="283.30" fill="none" stroke="#000" stroke-width="1.8"/>
<g fill="none" stroke-width="3.0" stroke-linecap="butt">
<path d="M290.20,47.50h27.9" stroke="#ff0000" stroke-dasharray="11.6 4.7"/>
<text x="336.00" y="53.90" class="lg">1</text>
<path d="M290.20,73.00h27.9" stroke="#0000ff" stroke-dasharray="11.6 4.7"/>
<text x="336.00" y="79.40" class="lg">2</text>
<path d="M290.20,98.50h27.9" stroke="#008000" stroke-dasharray="11.6 4.7"/>
<text x="336.00" y="104.90" class="lg">3</text>
<path d="M290.20,124.00h27.9" stroke="#000000" stroke-dasharray="11.6 4.7"/>
<text x="336.00" y="130.40" class="lg">4</text>
<path d="M382.80,47.50h27.9" stroke="#00ffff" stroke-dasharray="11.6 4.7"/>
<text x="428.60" y="53.90" class="lg">5</text>
<path d="M382.80,73.00h27.9" stroke="#ffc0cb" stroke-dasharray="11.6 4.7"/>
<text x="428.60" y="79.40" class="lg">6</text>
<path d="M382.80,98.50h27.9" stroke="#ffa500" stroke-dasharray="11.6 4.7"/>
<text x="428.60" y="104.90" class="lg">7</text>
<path d="M382.80,124.00h27.9" stroke="#add8e6" stroke-dasharray="11.6 4.7"/>
<text x="428.60" y="130.40" class="lg">8</text>
</g>
<text x="66" y="310.20" text-anchor="end" class="tk">0.0</text>
<text x="66" y="256.04" text-anchor="end" class="tk">0.2</text>
<text x="66" y="201.88" text-anchor="end" class="tk">0.4</text>
<text x="66" y="147.72" text-anchor="end" class="tk">0.6</text>
<text x="66" y="93.56" text-anchor="end" class="tk">0.8</text>
<text x="66" y="39.40" text-anchor="end" class="tk">1.0</text>
<text x="73.40" y="329.1" text-anchor="middle" class="tk">0.0</text>
<text x="149.54" y="329.1" text-anchor="middle" class="tk">0.2</text>
<text x="225.68" y="329.1" text-anchor="middle" class="tk">0.4</text>
<text x="301.82" y="329.1" text-anchor="middle" class="tk">0.6</text>
<text x="377.96" y="329.1" text-anchor="middle" class="tk">0.8</text>
<text x="454.10" y="329.1" text-anchor="middle" class="tk">1.0</text>
<text x="264.65" y="369.8" text-anchor="middle" class="lb">Time [ps]</text>
<text x="492.20" y="329.1" text-anchor="middle" class="tk">0.0</text>
<text x="568.34" y="329.1" text-anchor="middle" class="tk">0.2</text>
<text x="644.48" y="329.1" text-anchor="middle" class="tk">0.4</text>
<text x="720.62" y="329.1" text-anchor="middle" class="tk">0.6</text>
<text x="796.76" y="329.1" text-anchor="middle" class="tk">0.8</text>
<text x="872.90" y="329.1" text-anchor="middle" class="tk">1.0</text>
<text x="683.45" y="369.8" text-anchor="middle" class="lb">Time [ps]</text>
<text transform="translate(16.7,166.6) rotate(-90)" text-anchor="middle" class="lb" textLength="98.5" lengthAdjust="spacing">Population</text>
<text x="1.2" y="17.9" class="pl">A</text>
<text x="471.0" y="18.2" class="pl">B</text>
</svg>
</body></html>
